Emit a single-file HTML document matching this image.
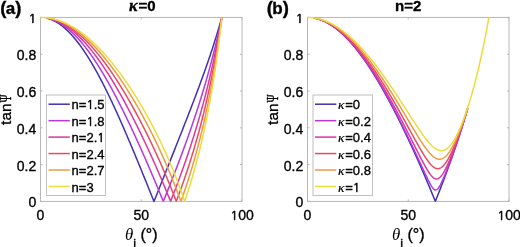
<!DOCTYPE html>
<html><head><meta charset="utf-8"><style>
html,body{margin:0;padding:0;background:#fff;width:520px;height:247px;overflow:hidden}
svg{display:block}
text{font-family:"Liberation Sans",Arial,sans-serif;fill:#000;stroke:#000;stroke-width:0.35px}
.tk{font-size:14px}
.lg{font-size:13px}
.ti{font-size:15px;font-weight:bold}
.ti .k{font-family:"Liberation Serif",serif;font-style:italic;font-weight:bold;font-size:16.3px;letter-spacing:0.8px}
.lg .k{font-family:"Liberation Serif",serif;font-style:italic;font-size:13.4px;stroke-width:0.2px;letter-spacing:0.7px}
.pl{font-size:17px;font-weight:bold}
.pp{font-size:18.5px;letter-spacing:-0.5px}
.yl{font-size:15.4px}
.xl{font-size:16px}
.k{font-style:italic}
.psi{font-family:"Liberation Serif",serif;font-size:16.5px}
.th{font-family:"Liberation Serif",serif;font-style:italic;font-size:16.8px;stroke-width:0}
.sub{font-size:12.5px}
.o{font-family:NanumGothic,"Liberation Sans",sans-serif;font-size:0.926em;stroke-width:0.55px}
</style></head><body>
<svg width="520" height="247" viewBox="0 0 520 247">
<rect width="520" height="247" fill="#fff"/>
<rect x="40.5" y="17.45" width="201.5" height="183.95000000000002" fill="none" stroke="#b6b6b6" stroke-width="1"/>
<line x1="40.5" y1="201.4" x2="40.5" y2="199.4" stroke="#b6b6b6" stroke-width="1"/>
<line x1="40.5" y1="17.45" x2="40.5" y2="19.45" stroke="#b6b6b6" stroke-width="1"/>
<line x1="141.25" y1="201.4" x2="141.25" y2="199.4" stroke="#b6b6b6" stroke-width="1"/>
<line x1="141.25" y1="17.45" x2="141.25" y2="19.45" stroke="#b6b6b6" stroke-width="1"/>
<line x1="242.0" y1="201.4" x2="242.0" y2="199.4" stroke="#b6b6b6" stroke-width="1"/>
<line x1="242.0" y1="17.45" x2="242.0" y2="19.45" stroke="#b6b6b6" stroke-width="1"/>
<line x1="40.5" y1="201.4" x2="42.5" y2="201.4" stroke="#b6b6b6" stroke-width="1"/>
<line x1="242.0" y1="201.4" x2="240.0" y2="201.4" stroke="#b6b6b6" stroke-width="1"/>
<line x1="40.5" y1="164.61" x2="42.5" y2="164.61" stroke="#b6b6b6" stroke-width="1"/>
<line x1="242.0" y1="164.61" x2="240.0" y2="164.61" stroke="#b6b6b6" stroke-width="1"/>
<line x1="40.5" y1="127.82" x2="42.5" y2="127.82" stroke="#b6b6b6" stroke-width="1"/>
<line x1="242.0" y1="127.82" x2="240.0" y2="127.82" stroke="#b6b6b6" stroke-width="1"/>
<line x1="40.5" y1="91.03" x2="42.5" y2="91.03" stroke="#b6b6b6" stroke-width="1"/>
<line x1="242.0" y1="91.03" x2="240.0" y2="91.03" stroke="#b6b6b6" stroke-width="1"/>
<line x1="40.5" y1="54.23999999999998" x2="42.5" y2="54.23999999999998" stroke="#b6b6b6" stroke-width="1"/>
<line x1="242.0" y1="54.23999999999998" x2="240.0" y2="54.23999999999998" stroke="#b6b6b6" stroke-width="1"/>
<line x1="40.5" y1="17.44999999999999" x2="42.5" y2="17.44999999999999" stroke="#b6b6b6" stroke-width="1"/>
<line x1="242.0" y1="17.44999999999999" x2="240.0" y2="17.44999999999999" stroke="#b6b6b6" stroke-width="1"/>
<polyline points="46.55,18.12 46.94,18.21 47.34,18.31 47.74,18.41 48.14,18.52 48.54,18.64 48.94,18.76 49.34,18.89 49.74,19.02 50.14,19.16 50.54,19.30 50.94,19.45 51.34,19.61 51.74,19.77 52.14,19.93 52.53,20.11 52.93,20.29 53.33,20.47 53.73,20.66 54.13,20.86 54.53,21.06 54.93,21.27 55.33,21.48 55.73,21.70 56.13,21.92 56.53,22.15 56.93,22.39 57.33,22.63 57.73,22.88 58.13,23.13 58.52,23.39 58.92,23.65 59.32,23.92 59.72,24.20 60.12,24.48 60.52,24.76 60.92,25.06 61.32,25.35 61.72,25.66 62.12,25.97 62.52,26.28 62.92,26.60 63.32,26.93 63.72,27.26 64.12,27.59 64.51,27.94 64.91,28.28 65.31,28.64 65.71,28.99 66.11,29.36 66.51,29.73 66.91,30.10 67.31,30.48 67.71,30.87 68.11,31.26 68.51,31.65 68.91,32.05 69.31,32.46 69.71,32.87 70.11,33.29 70.50,33.71 70.90,34.14 71.30,34.57 71.70,35.01 72.10,35.45 72.50,35.90 72.90,36.35 73.30,36.81 73.70,37.27 74.10,37.74 74.50,38.21 74.90,38.69 75.30,39.18 75.70,39.67 76.10,40.16 76.49,40.66 76.89,41.16 77.29,41.67 77.69,42.18 78.09,42.70 78.49,43.23 78.89,43.75 79.29,44.29 79.69,44.82 80.09,45.37 80.49,45.91 80.89,46.47 81.29,47.02 81.69,47.58 82.09,48.15 82.48,48.72 82.88,49.30 83.28,49.88 83.68,50.46 84.08,51.05 84.48,51.65 84.88,52.24 85.28,52.85 85.68,53.45 86.08,54.07 86.48,54.68 86.88,55.30 87.28,55.93 87.68,56.56 88.08,57.19 88.47,57.83 88.87,58.47 89.27,59.12 89.67,59.77 90.07,60.43 90.47,61.09 90.87,61.75 91.27,62.42 91.67,63.09 92.07,63.77 92.47,64.45 92.87,65.13 93.27,65.82 93.67,66.51 94.07,67.21 94.46,67.91 94.86,68.61 95.26,69.32 95.66,70.03 96.06,70.75 96.46,71.47 96.86,72.19 97.26,72.92 97.66,73.65 98.06,74.39 98.46,75.13 98.86,75.87 99.26,76.61 99.66,77.36 100.05,78.12 100.45,78.87 100.85,79.63 101.25,80.40 101.65,81.16 102.05,81.93 102.45,82.71 102.85,83.49 103.25,84.27 103.65,85.05 104.05,85.84 104.45,86.63 104.85,87.42 105.25,88.22 105.65,89.02 106.04,89.83 106.44,90.63 106.84,91.44 107.24,92.26 107.64,93.07 108.04,93.89 108.44,94.71 108.84,95.54 109.24,96.37 109.64,97.20 110.04,98.03 110.44,98.87 110.84,99.71 111.24,100.55 111.64,101.40 112.03,102.24 112.43,103.10 112.83,103.95 113.23,104.81 113.63,105.66 114.03,106.53 114.43,107.39 114.83,108.26 115.23,109.13 115.63,110.00 116.03,110.87 116.43,111.75 116.83,112.63 117.23,113.51 117.63,114.39 118.02,115.28 118.42,116.17 118.82,117.06 119.22,117.95 119.62,118.85 120.02,119.75 120.42,120.65 120.82,121.55 121.22,122.45 121.62,123.36 122.02,124.27 122.42,125.18 122.82,126.09 123.22,127.00 123.62,127.92 124.01,128.84 124.41,129.76 124.81,130.68 125.21,131.60 125.61,132.53 126.01,133.46 126.41,134.39 126.81,135.32 127.21,136.25 127.61,137.19 128.01,138.12 128.41,139.06 128.81,140.00 129.21,140.94 129.61,141.88 130.00,142.83 130.40,143.77 130.80,144.72 131.20,145.67 131.60,146.62 132.00,147.57 132.40,148.52 132.80,149.47 133.20,150.43 133.60,151.39 134.00,152.34 134.40,153.30 134.80,154.26 135.20,155.23 135.60,156.19 135.99,157.15 136.39,158.12 136.79,159.08 137.19,160.05 137.59,161.02 137.99,161.99 138.39,162.96 138.79,163.93 139.19,164.90 139.59,165.88 139.99,166.85 140.39,167.83 140.79,168.80 141.19,169.78 141.59,170.76 141.98,171.74 142.38,172.72 142.78,173.70 143.18,174.68 143.58,175.66 143.98,176.64 144.38,177.63 144.78,178.61 145.18,179.60 145.58,180.58 145.98,181.57 146.38,182.56 146.78,183.54 147.18,184.53 147.57,185.52 147.97,186.51 148.37,187.50 148.77,188.49 149.17,189.48 149.57,190.47 149.97,191.46 150.37,192.45 150.77,193.45 151.17,194.44 151.57,195.43 151.97,196.43 152.37,197.42 152.77,198.41 153.17,199.41 153.56,200.40 153.96,201.40 154.36,200.40 154.76,199.41 155.16,198.41 155.56,197.42 155.96,196.42 156.36,195.42 156.76,194.42 157.16,193.43 157.56,192.43 157.96,191.43 158.36,190.43 158.76,189.43 159.16,188.43 159.55,187.44 159.95,186.44 160.35,185.44 160.75,184.44 161.15,183.44 161.55,182.44 161.95,181.44 162.35,180.44 162.75,179.44 163.15,178.44 163.55,177.44 163.95,176.44 164.35,175.43 164.75,174.43 165.15,173.43 165.54,172.43 165.94,171.43 166.34,170.43 166.74,169.43 167.14,168.42 167.54,167.42 167.94,166.42 168.34,165.42 168.74,164.42 169.14,163.41 169.54,162.41 169.94,161.41 170.34,160.40 170.74,159.40 171.14,158.40 171.53,157.39 171.93,156.39 172.33,155.39 172.73,154.38 173.13,153.38 173.53,152.37 173.93,151.37 174.33,150.36 174.73,149.36 175.13,148.35 175.53,147.34 175.93,146.34 176.33,145.33 176.73,144.32 177.13,143.32 177.52,142.31 177.92,141.30 178.32,140.29 178.72,139.28 179.12,138.27 179.52,137.26 179.92,136.25 180.32,135.24 180.72,134.23 181.12,133.22 181.52,132.21 181.92,131.19 182.32,130.18 182.72,129.16 183.12,128.15 183.51,127.13 183.91,126.12 184.31,125.10 184.71,124.08 185.11,123.06 185.51,122.04 185.91,121.02 186.31,120.00 186.71,118.98 187.11,117.95 187.51,116.93 187.91,115.90 188.31,114.87 188.71,113.85 189.11,112.82 189.50,111.79 189.90,110.75 190.30,109.72 190.70,108.68 191.10,107.65 191.50,106.61 191.90,105.57 192.30,104.53 192.70,103.49 193.10,102.44 193.50,101.40 193.90,100.35 194.30,99.30 194.70,98.25 195.10,97.20 195.49,96.14 195.89,95.08 196.29,94.02 196.69,92.96 197.09,91.90 197.49,90.83 197.89,89.76 198.29,88.69 198.69,87.61 199.09,86.54 199.49,85.46 199.89,84.38 200.29,83.29 200.69,82.20 201.08,81.11 201.48,80.02 201.88,78.92 202.28,77.82 202.68,76.71 203.08,75.61 203.48,74.50 203.88,73.38 204.28,72.26 204.68,71.14 205.08,70.01 205.48,68.88 205.88,67.75 206.28,66.61 206.68,65.47 207.07,64.32 207.47,63.17 207.87,62.01 208.27,60.85 208.67,59.68 209.07,58.51 209.47,57.33 209.87,56.15 210.27,54.96 210.67,53.77 211.07,52.57 211.47,51.37 211.87,50.16 212.27,48.94 212.67,47.72 213.06,46.49 213.46,45.25 213.86,44.01 214.26,42.76 214.66,41.50 215.06,40.24 215.46,38.96 215.86,37.68 216.26,36.40 216.66,35.10 217.06,33.80 217.46,32.49 217.86,31.17 218.26,29.84 218.66,28.50 219.05,27.15 219.45,25.80 219.85,24.43 220.25,23.06 220.65,21.67 221.05,20.27 221.45,18.87 221.85,17.45" fill="none" stroke="#4030b0" stroke-width="1.5" stroke-linejoin="round"/>
<polyline points="46.55,18.01 46.94,18.09 47.34,18.17 47.74,18.25 48.14,18.34 48.54,18.44 48.94,18.54 49.34,18.65 49.74,18.76 50.14,18.87 50.54,18.99 50.94,19.12 51.34,19.25 51.74,19.38 52.14,19.52 52.53,19.67 52.93,19.81 53.33,19.97 53.73,20.13 54.13,20.29 54.53,20.46 54.93,20.63 55.33,20.81 55.73,20.99 56.13,21.18 56.53,21.37 56.93,21.57 57.33,21.77 57.73,21.98 58.13,22.19 58.52,22.40 58.92,22.62 59.32,22.85 59.72,23.08 60.12,23.31 60.52,23.55 60.92,23.80 61.32,24.05 61.72,24.30 62.12,24.56 62.52,24.82 62.92,25.09 63.32,25.36 63.72,25.64 64.12,25.92 64.51,26.20 64.91,26.49 65.31,26.79 65.71,27.09 66.11,27.39 66.51,27.70 66.91,28.02 67.31,28.33 67.71,28.66 68.11,28.98 68.51,29.31 68.91,29.65 69.31,29.99 69.71,30.34 70.11,30.69 70.50,31.04 70.90,31.40 71.30,31.76 71.70,32.13 72.10,32.50 72.50,32.87 72.90,33.26 73.30,33.64 73.70,34.03 74.10,34.42 74.50,34.82 74.90,35.22 75.30,35.63 75.70,36.04 76.10,36.45 76.49,36.87 76.89,37.30 77.29,37.72 77.69,38.16 78.09,38.59 78.49,39.03 78.89,39.48 79.29,39.93 79.69,40.38 80.09,40.84 80.49,41.30 80.89,41.76 81.29,42.23 81.69,42.70 82.09,43.18 82.48,43.66 82.88,44.15 83.28,44.64 83.68,45.13 84.08,45.63 84.48,46.13 84.88,46.64 85.28,47.15 85.68,47.66 86.08,48.18 86.48,48.70 86.88,49.22 87.28,49.75 87.68,50.29 88.08,50.82 88.47,51.36 88.87,51.91 89.27,52.46 89.67,53.01 90.07,53.56 90.47,54.12 90.87,54.69 91.27,55.25 91.67,55.82 92.07,56.40 92.47,56.98 92.87,57.56 93.27,58.14 93.67,58.73 94.07,59.32 94.46,59.92 94.86,60.52 95.26,61.12 95.66,61.73 96.06,62.34 96.46,62.95 96.86,63.57 97.26,64.19 97.66,64.81 98.06,65.44 98.46,66.07 98.86,66.70 99.26,67.34 99.66,67.98 100.05,68.63 100.45,69.27 100.85,69.92 101.25,70.58 101.65,71.24 102.05,71.90 102.45,72.56 102.85,73.23 103.25,73.90 103.65,74.57 104.05,75.25 104.45,75.93 104.85,76.61 105.25,77.29 105.65,77.98 106.04,78.67 106.44,79.37 106.84,80.07 107.24,80.77 107.64,81.47 108.04,82.18 108.44,82.89 108.84,83.60 109.24,84.32 109.64,85.03 110.04,85.76 110.44,86.48 110.84,87.21 111.24,87.94 111.64,88.67 112.03,89.40 112.43,90.14 112.83,90.88 113.23,91.63 113.63,92.37 114.03,93.12 114.43,93.87 114.83,94.63 115.23,95.39 115.63,96.14 116.03,96.91 116.43,97.67 116.83,98.44 117.23,99.21 117.63,99.98 118.02,100.76 118.42,101.53 118.82,102.31 119.22,103.10 119.62,103.88 120.02,104.67 120.42,105.46 120.82,106.25 121.22,107.04 121.62,107.84 122.02,108.64 122.42,109.44 122.82,110.24 123.22,111.05 123.62,111.86 124.01,112.67 124.41,113.48 124.81,114.30 125.21,115.11 125.61,115.93 126.01,116.76 126.41,117.58 126.81,118.41 127.21,119.23 127.61,120.06 128.01,120.90 128.41,121.73 128.81,122.57 129.21,123.40 129.61,124.25 130.00,125.09 130.40,125.93 130.80,126.78 131.20,127.63 131.60,128.48 132.00,129.33 132.40,130.18 132.80,131.04 133.20,131.90 133.60,132.76 134.00,133.62 134.40,134.48 134.80,135.35 135.20,136.22 135.60,137.09 135.99,137.96 136.39,138.83 136.79,139.71 137.19,140.58 137.59,141.46 137.99,142.34 138.39,143.22 138.79,144.11 139.19,144.99 139.59,145.88 139.99,146.77 140.39,147.66 140.79,148.55 141.19,149.44 141.59,150.34 141.98,151.24 142.38,152.14 142.78,153.04 143.18,153.94 143.58,154.84 143.98,155.75 144.38,156.65 144.78,157.56 145.18,158.47 145.58,159.39 145.98,160.30 146.38,161.21 146.78,162.13 147.18,163.05 147.57,163.97 147.97,164.89 148.37,165.81 148.77,166.74 149.17,167.66 149.57,168.59 149.97,169.52 150.37,170.45 150.77,171.38 151.17,172.31 151.57,173.25 151.97,174.18 152.37,175.12 152.77,176.06 153.17,177.00 153.56,177.94 153.96,178.89 154.36,179.83 154.76,180.78 155.16,181.73 155.56,182.68 155.96,183.63 156.36,184.58 156.76,185.54 157.16,186.49 157.56,187.45 157.96,188.41 158.36,189.37 158.76,190.33 159.16,191.30 159.55,192.26 159.95,193.23 160.35,194.20 160.75,195.17 161.15,196.14 161.55,197.11 161.95,198.08 162.35,199.06 162.75,200.04 163.15,201.02 163.55,200.80 163.95,199.82 164.35,198.84 164.75,197.85 165.15,196.86 165.54,195.87 165.94,194.88 166.34,193.89 166.74,192.90 167.14,191.90 167.54,190.90 167.94,189.90 168.34,188.90 168.74,187.90 169.14,186.90 169.54,185.89 169.94,184.88 170.34,183.87 170.74,182.86 171.14,181.84 171.53,180.83 171.93,179.81 172.33,178.79 172.73,177.77 173.13,176.74 173.53,175.72 173.93,174.69 174.33,173.66 174.73,172.63 175.13,171.59 175.53,170.56 175.93,169.52 176.33,168.48 176.73,167.43 177.13,166.39 177.52,165.34 177.92,164.29 178.32,163.24 178.72,162.18 179.12,161.13 179.52,160.07 179.92,159.00 180.32,157.94 180.72,156.87 181.12,155.80 181.52,154.73 181.92,153.65 182.32,152.57 182.72,151.49 183.12,150.41 183.51,149.32 183.91,148.23 184.31,147.13 184.71,146.04 185.11,144.94 185.51,143.84 185.91,142.73 186.31,141.62 186.71,140.51 187.11,139.39 187.51,138.27 187.91,137.15 188.31,136.02 188.71,134.89 189.11,133.76 189.50,132.62 189.90,131.48 190.30,130.33 190.70,129.18 191.10,128.03 191.50,126.87 191.90,125.71 192.30,124.54 192.70,123.37 193.10,122.19 193.50,121.01 193.90,119.83 194.30,118.64 194.70,117.45 195.10,116.25 195.49,115.04 195.89,113.83 196.29,112.62 196.69,111.40 197.09,110.17 197.49,108.94 197.89,107.71 198.29,106.47 198.69,105.22 199.09,103.97 199.49,102.71 199.89,101.44 200.29,100.17 200.69,98.89 201.08,97.60 201.48,96.31 201.88,95.01 202.28,93.71 202.68,92.40 203.08,91.08 203.48,89.75 203.88,88.42 204.28,87.07 204.68,85.72 205.08,84.37 205.48,83.00 205.88,81.63 206.28,80.25 206.68,78.85 207.07,77.45 207.47,76.05 207.87,74.63 208.27,73.20 208.67,71.76 209.07,70.32 209.47,68.86 209.87,67.39 210.27,65.92 210.67,64.43 211.07,62.93 211.47,61.42 211.87,59.90 212.27,58.37 212.67,56.83 213.06,55.27 213.46,53.71 213.86,52.13 214.26,50.53 214.66,48.93 215.06,47.31 215.46,45.68 215.86,44.03 216.26,42.37 216.66,40.69 217.06,39.00 217.46,37.30 217.86,35.58 218.26,33.84 218.66,32.09 219.05,30.32 219.45,28.54 219.85,26.74 220.25,24.92 220.65,23.08 221.05,21.22 221.45,19.34 221.85,17.45" fill="none" stroke="#b636e0" stroke-width="1.5" stroke-linejoin="round"/>
<polyline points="46.55,17.93 46.94,18.00 47.34,18.07 47.74,18.14 48.14,18.22 48.54,18.30 48.94,18.39 49.34,18.48 49.74,18.57 50.14,18.67 50.54,18.77 50.94,18.88 51.34,18.99 51.74,19.11 52.14,19.23 52.53,19.35 52.93,19.48 53.33,19.61 53.73,19.75 54.13,19.89 54.53,20.03 54.93,20.18 55.33,20.33 55.73,20.49 56.13,20.65 56.53,20.81 56.93,20.98 57.33,21.16 57.73,21.33 58.13,21.51 58.52,21.70 58.92,21.89 59.32,22.08 59.72,22.28 60.12,22.48 60.52,22.69 60.92,22.90 61.32,23.11 61.72,23.33 62.12,23.55 62.52,23.78 62.92,24.01 63.32,24.24 63.72,24.48 64.12,24.72 64.51,24.97 64.91,25.22 65.31,25.47 65.71,25.73 66.11,25.99 66.51,26.26 66.91,26.53 67.31,26.80 67.71,27.08 68.11,27.36 68.51,27.64 68.91,27.93 69.31,28.23 69.71,28.52 70.11,28.82 70.50,29.13 70.90,29.44 71.30,29.75 71.70,30.07 72.10,30.39 72.50,30.71 72.90,31.04 73.30,31.37 73.70,31.71 74.10,32.05 74.50,32.39 74.90,32.74 75.30,33.09 75.70,33.44 76.10,33.80 76.49,34.16 76.89,34.53 77.29,34.90 77.69,35.27 78.09,35.65 78.49,36.03 78.89,36.41 79.29,36.80 79.69,37.19 80.09,37.59 80.49,37.99 80.89,38.39 81.29,38.80 81.69,39.21 82.09,39.62 82.48,40.04 82.88,40.46 83.28,40.88 83.68,41.31 84.08,41.74 84.48,42.18 84.88,42.61 85.28,43.06 85.68,43.50 86.08,43.95 86.48,44.40 86.88,44.86 87.28,45.32 87.68,45.78 88.08,46.25 88.47,46.72 88.87,47.19 89.27,47.67 89.67,48.15 90.07,48.63 90.47,49.12 90.87,49.61 91.27,50.10 91.67,50.60 92.07,51.10 92.47,51.60 92.87,52.11 93.27,52.62 93.67,53.13 94.07,53.65 94.46,54.17 94.86,54.69 95.26,55.22 95.66,55.75 96.06,56.28 96.46,56.82 96.86,57.36 97.26,57.90 97.66,58.45 98.06,59.00 98.46,59.55 98.86,60.10 99.26,60.66 99.66,61.22 100.05,61.79 100.45,62.36 100.85,62.93 101.25,63.50 101.65,64.08 102.05,64.66 102.45,65.24 102.85,65.83 103.25,66.41 103.65,67.01 104.05,67.60 104.45,68.20 104.85,68.80 105.25,69.40 105.65,70.01 106.04,70.62 106.44,71.23 106.84,71.85 107.24,72.47 107.64,73.09 108.04,73.71 108.44,74.34 108.84,74.97 109.24,75.60 109.64,76.23 110.04,76.87 110.44,77.51 110.84,78.16 111.24,78.80 111.64,79.45 112.03,80.11 112.43,80.76 112.83,81.42 113.23,82.08 113.63,82.74 114.03,83.41 114.43,84.07 114.83,84.74 115.23,85.42 115.63,86.09 116.03,86.77 116.43,87.45 116.83,88.14 117.23,88.82 117.63,89.51 118.02,90.20 118.42,90.90 118.82,91.60 119.22,92.30 119.62,93.00 120.02,93.70 120.42,94.41 120.82,95.12 121.22,95.83 121.62,96.54 122.02,97.26 122.42,97.98 122.82,98.70 123.22,99.43 123.62,100.15 124.01,100.88 124.41,101.61 124.81,102.35 125.21,103.08 125.61,103.82 126.01,104.56 126.41,105.31 126.81,106.05 127.21,106.80 127.61,107.55 128.01,108.30 128.41,109.06 128.81,109.82 129.21,110.58 129.61,111.34 130.00,112.10 130.40,112.87 130.80,113.64 131.20,114.41 131.60,115.18 132.00,115.96 132.40,116.74 132.80,117.52 133.20,118.30 133.60,119.09 134.00,119.87 134.40,120.66 134.80,121.45 135.20,122.25 135.60,123.04 135.99,123.84 136.39,124.64 136.79,125.44 137.19,126.25 137.59,127.06 137.99,127.86 138.39,128.68 138.79,129.49 139.19,130.31 139.59,131.12 139.99,131.94 140.39,132.77 140.79,133.59 141.19,134.42 141.59,135.25 141.98,136.08 142.38,136.91 142.78,137.74 143.18,138.58 143.58,139.42 143.98,140.26 144.38,141.11 144.78,141.95 145.18,142.80 145.58,143.65 145.98,144.50 146.38,145.36 146.78,146.22 147.18,147.07 147.57,147.94 147.97,148.80 148.37,149.66 148.77,150.53 149.17,151.40 149.57,152.27 149.97,153.15 150.37,154.03 150.77,154.90 151.17,155.78 151.57,156.67 151.97,157.55 152.37,158.44 152.77,159.33 153.17,160.22 153.56,161.12 153.96,162.01 154.36,162.91 154.76,163.81 155.16,164.72 155.56,165.62 155.96,166.53 156.36,167.44 156.76,168.35 157.16,169.27 157.56,170.19 157.96,171.11 158.36,172.03 158.76,172.95 159.16,173.88 159.55,174.81 159.95,175.74 160.35,176.68 160.75,177.61 161.15,178.55 161.55,179.49 161.95,180.44 162.35,181.38 162.75,182.33 163.15,183.28 163.55,184.24 163.95,185.20 164.35,186.16 164.75,187.12 165.15,188.08 165.54,189.05 165.94,190.02 166.34,191.00 166.74,191.97 167.14,192.95 167.54,193.93 167.94,194.92 168.34,195.90 168.74,196.89 169.14,197.89 169.54,198.88 169.94,199.88 170.34,200.89 170.74,200.91 171.14,199.90 171.53,198.89 171.93,197.87 172.33,196.86 172.73,195.84 173.13,194.81 173.53,193.78 173.93,192.75 174.33,191.72 174.73,190.68 175.13,189.64 175.53,188.59 175.93,187.54 176.33,186.49 176.73,185.44 177.13,184.38 177.52,183.31 177.92,182.25 178.32,181.18 178.72,180.10 179.12,179.02 179.52,177.94 179.92,176.85 180.32,175.76 180.72,174.67 181.12,173.57 181.52,172.46 181.92,171.35 182.32,170.24 182.72,169.12 183.12,168.00 183.51,166.88 183.91,165.74 184.31,164.61 184.71,163.47 185.11,162.32 185.51,161.17 185.91,160.02 186.31,158.86 186.71,157.69 187.11,156.52 187.51,155.34 187.91,154.16 188.31,152.97 188.71,151.78 189.11,150.58 189.50,149.37 189.90,148.16 190.30,146.95 190.70,145.72 191.10,144.49 191.50,143.26 191.90,142.02 192.30,140.77 192.70,139.51 193.10,138.25 193.50,136.98 193.90,135.71 194.30,134.42 194.70,133.13 195.10,131.83 195.49,130.53 195.89,129.22 196.29,127.89 196.69,126.57 197.09,125.23 197.49,123.88 197.89,122.53 198.29,121.17 198.69,119.80 199.09,118.42 199.49,117.03 199.89,115.63 200.29,114.23 200.69,112.81 201.08,111.38 201.48,109.95 201.88,108.50 202.28,107.05 202.68,105.58 203.08,104.10 203.48,102.61 203.88,101.11 204.28,99.60 204.68,98.08 205.08,96.55 205.48,95.00 205.88,93.44 206.28,91.87 206.68,90.29 207.07,88.69 207.47,87.08 207.87,85.46 208.27,83.83 208.67,82.17 209.07,80.51 209.47,78.83 209.87,77.14 210.27,75.43 210.67,73.70 211.07,71.96 211.47,70.20 211.87,68.43 212.27,66.64 212.67,64.83 213.06,63.00 213.46,61.16 213.86,59.30 214.26,57.42 214.66,55.52 215.06,53.59 215.46,51.65 215.86,49.69 216.26,47.71 216.66,45.71 217.06,43.68 217.46,41.63 217.86,39.56 218.26,37.47 218.66,35.35 219.05,33.20 219.45,31.03 219.85,28.84 220.25,26.62 220.65,24.37 221.05,22.09 221.45,19.78 221.85,17.45" fill="none" stroke="#de35a0" stroke-width="1.5" stroke-linejoin="round"/>
<polyline points="46.55,17.87 46.94,17.93 47.34,17.99 47.74,18.05 48.14,18.12 48.54,18.19 48.94,18.27 49.34,18.35 49.74,18.43 50.14,18.52 50.54,18.61 50.94,18.70 51.34,18.80 51.74,18.90 52.14,19.00 52.53,19.11 52.93,19.22 53.33,19.34 53.73,19.46 54.13,19.58 54.53,19.71 54.93,19.84 55.33,19.97 55.73,20.11 56.13,20.25 56.53,20.40 56.93,20.54 57.33,20.70 57.73,20.85 58.13,21.01 58.52,21.17 58.92,21.34 59.32,21.51 59.72,21.68 60.12,21.86 60.52,22.04 60.92,22.22 61.32,22.41 61.72,22.60 62.12,22.79 62.52,22.99 62.92,23.19 63.32,23.40 63.72,23.61 64.12,23.82 64.51,24.04 64.91,24.26 65.31,24.48 65.71,24.70 66.11,24.93 66.51,25.17 66.91,25.40 67.31,25.64 67.71,25.89 68.11,26.14 68.51,26.39 68.91,26.64 69.31,26.90 69.71,27.16 70.11,27.42 70.50,27.69 70.90,27.96 71.30,28.24 71.70,28.52 72.10,28.80 72.50,29.08 72.90,29.37 73.30,29.66 73.70,29.96 74.10,30.26 74.50,30.56 74.90,30.87 75.30,31.17 75.70,31.49 76.10,31.80 76.49,32.12 76.89,32.44 77.29,32.77 77.69,33.10 78.09,33.43 78.49,33.76 78.89,34.10 79.29,34.45 79.69,34.79 80.09,35.14 80.49,35.49 80.89,35.85 81.29,36.21 81.69,36.57 82.09,36.93 82.48,37.30 82.88,37.67 83.28,38.05 83.68,38.43 84.08,38.81 84.48,39.19 84.88,39.58 85.28,39.97 85.68,40.36 86.08,40.76 86.48,41.16 86.88,41.56 87.28,41.97 87.68,42.38 88.08,42.79 88.47,43.21 88.87,43.63 89.27,44.05 89.67,44.48 90.07,44.90 90.47,45.34 90.87,45.77 91.27,46.21 91.67,46.65 92.07,47.09 92.47,47.54 92.87,47.99 93.27,48.44 93.67,48.90 94.07,49.36 94.46,49.82 94.86,50.29 95.26,50.75 95.66,51.22 96.06,51.70 96.46,52.18 96.86,52.66 97.26,53.14 97.66,53.62 98.06,54.11 98.46,54.60 98.86,55.10 99.26,55.60 99.66,56.10 100.05,56.60 100.45,57.11 100.85,57.62 101.25,58.13 101.65,58.64 102.05,59.16 102.45,59.68 102.85,60.20 103.25,60.73 103.65,61.26 104.05,61.79 104.45,62.33 104.85,62.86 105.25,63.40 105.65,63.95 106.04,64.49 106.44,65.04 106.84,65.59 107.24,66.15 107.64,66.70 108.04,67.26 108.44,67.83 108.84,68.39 109.24,68.96 109.64,69.53 110.04,70.10 110.44,70.68 110.84,71.26 111.24,71.84 111.64,72.42 112.03,73.01 112.43,73.60 112.83,74.19 113.23,74.79 113.63,75.38 114.03,75.98 114.43,76.59 114.83,77.19 115.23,77.80 115.63,78.41 116.03,79.02 116.43,79.64 116.83,80.26 117.23,80.88 117.63,81.50 118.02,82.13 118.42,82.76 118.82,83.39 119.22,84.02 119.62,84.66 120.02,85.30 120.42,85.94 120.82,86.58 121.22,87.23 121.62,87.88 122.02,88.53 122.42,89.18 122.82,89.84 123.22,90.50 123.62,91.16 124.01,91.82 124.41,92.49 124.81,93.16 125.21,93.83 125.61,94.50 126.01,95.18 126.41,95.86 126.81,96.54 127.21,97.22 127.61,97.91 128.01,98.60 128.41,99.29 128.81,99.98 129.21,100.68 129.61,101.38 130.00,102.08 130.40,102.78 130.80,103.49 131.20,104.20 131.60,104.91 132.00,105.62 132.40,106.34 132.80,107.06 133.20,107.78 133.60,108.50 134.00,109.22 134.40,109.95 134.80,110.68 135.20,111.42 135.60,112.15 135.99,112.89 136.39,113.63 136.79,114.37 137.19,115.12 137.59,115.86 137.99,116.61 138.39,117.37 138.79,118.12 139.19,118.88 139.59,119.64 139.99,120.40 140.39,121.16 140.79,121.93 141.19,122.70 141.59,123.47 141.98,124.25 142.38,125.02 142.78,125.80 143.18,126.58 143.58,127.37 143.98,128.16 144.38,128.95 144.78,129.74 145.18,130.53 145.58,131.33 145.98,132.13 146.38,132.93 146.78,133.74 147.18,134.54 147.57,135.35 147.97,136.17 148.37,136.98 148.77,137.80 149.17,138.62 149.57,139.44 149.97,140.27 150.37,141.09 150.77,141.93 151.17,142.76 151.57,143.60 151.97,144.43 152.37,145.28 152.77,146.12 153.17,146.97 153.56,147.82 153.96,148.67 154.36,149.52 154.76,150.38 155.16,151.24 155.56,152.11 155.96,152.97 156.36,153.84 156.76,154.72 157.16,155.59 157.56,156.47 157.96,157.35 158.36,158.23 158.76,159.12 159.16,160.01 159.55,160.90 159.95,161.80 160.35,162.70 160.75,163.60 161.15,164.51 161.55,165.42 161.95,166.33 162.35,167.24 162.75,168.16 163.15,169.08 163.55,170.01 163.95,170.93 164.35,171.87 164.75,172.80 165.15,173.74 165.54,174.68 165.94,175.63 166.34,176.57 166.74,177.53 167.14,178.48 167.54,179.44 167.94,180.40 168.34,181.37 168.74,182.34 169.14,183.32 169.54,184.29 169.94,185.28 170.34,186.26 170.74,187.25 171.14,188.24 171.53,189.24 171.93,190.24 172.33,191.25 172.73,192.26 173.13,193.27 173.53,194.29 173.93,195.32 174.33,196.34 174.73,197.37 175.13,198.41 175.53,199.45 175.93,200.50 176.33,201.25 176.73,200.20 177.13,199.14 177.52,198.08 177.92,197.01 178.32,195.93 178.72,194.85 179.12,193.77 179.52,192.68 179.92,191.58 180.32,190.48 180.72,189.38 181.12,188.27 181.52,187.15 181.92,186.03 182.32,184.90 182.72,183.77 183.12,182.63 183.51,181.48 183.91,180.33 184.31,179.17 184.71,178.01 185.11,176.84 185.51,175.66 185.91,174.48 186.31,173.29 186.71,172.09 187.11,170.89 187.51,169.68 187.91,168.46 188.31,167.24 188.71,166.00 189.11,164.76 189.50,163.52 189.90,162.26 190.30,161.00 190.70,159.73 191.10,158.45 191.50,157.17 191.90,155.87 192.30,154.57 192.70,153.26 193.10,151.93 193.50,150.60 193.90,149.27 194.30,147.92 194.70,146.56 195.10,145.19 195.49,143.82 195.89,142.43 196.29,141.03 196.69,139.63 197.09,138.21 197.49,136.78 197.89,135.34 198.29,133.89 198.69,132.43 199.09,130.96 199.49,129.47 199.89,127.98 200.29,126.47 200.69,124.95 201.08,123.42 201.48,121.87 201.88,120.31 202.28,118.74 202.68,117.15 203.08,115.55 203.48,113.94 203.88,112.31 204.28,110.67 204.68,109.01 205.08,107.33 205.48,105.64 205.88,103.94 206.28,102.22 206.68,100.48 207.07,98.72 207.47,96.95 207.87,95.16 208.27,93.35 208.67,91.52 209.07,89.68 209.47,87.81 209.87,85.93 210.27,84.02 210.67,82.09 211.07,80.15 211.47,78.18 211.87,76.19 212.27,74.17 212.67,72.14 213.06,70.08 213.46,67.99 213.86,65.88 214.26,63.75 214.66,61.59 215.06,59.40 215.46,57.19 215.86,54.94 216.26,52.67 216.66,50.37 217.06,48.04 217.46,45.68 217.86,43.29 218.26,40.87 218.66,38.41 219.05,35.92 219.45,33.39 219.85,30.83 220.25,28.23 220.65,25.60 221.05,22.92 221.45,20.21 221.85,17.45" fill="none" stroke="#e84a62" stroke-width="1.5" stroke-linejoin="round"/>
<polyline points="46.55,17.82 46.94,17.87 47.34,17.93 47.74,17.99 48.14,18.05 48.54,18.11 48.94,18.18 49.34,18.25 49.74,18.32 50.14,18.40 50.54,18.48 50.94,18.56 51.34,18.65 51.74,18.74 52.14,18.83 52.53,18.93 52.93,19.03 53.33,19.13 53.73,19.24 54.13,19.35 54.53,19.46 54.93,19.57 55.33,19.69 55.73,19.82 56.13,19.94 56.53,20.07 56.93,20.20 57.33,20.34 57.73,20.47 58.13,20.62 58.52,20.76 58.92,20.91 59.32,21.06 59.72,21.21 60.12,21.37 60.52,21.53 60.92,21.70 61.32,21.86 61.72,22.03 62.12,22.21 62.52,22.38 62.92,22.56 63.32,22.74 63.72,22.93 64.12,23.12 64.51,23.31 64.91,23.51 65.31,23.71 65.71,23.91 66.11,24.11 66.51,24.32 66.91,24.53 67.31,24.75 67.71,24.96 68.11,25.18 68.51,25.41 68.91,25.63 69.31,25.86 69.71,26.10 70.11,26.33 70.50,26.57 70.90,26.81 71.30,27.06 71.70,27.31 72.10,27.56 72.50,27.81 72.90,28.07 73.30,28.33 73.70,28.60 74.10,28.86 74.50,29.13 74.90,29.40 75.30,29.68 75.70,29.96 76.10,30.24 76.49,30.53 76.89,30.81 77.29,31.11 77.69,31.40 78.09,31.70 78.49,32.00 78.89,32.30 79.29,32.61 79.69,32.92 80.09,33.23 80.49,33.54 80.89,33.86 81.29,34.18 81.69,34.51 82.09,34.83 82.48,35.16 82.88,35.49 83.28,35.83 83.68,36.17 84.08,36.51 84.48,36.86 84.88,37.20 85.28,37.55 85.68,37.91 86.08,38.26 86.48,38.62 86.88,38.98 87.28,39.35 87.68,39.72 88.08,40.09 88.47,40.46 88.87,40.84 89.27,41.22 89.67,41.60 90.07,41.98 90.47,42.37 90.87,42.76 91.27,43.16 91.67,43.55 92.07,43.95 92.47,44.35 92.87,44.76 93.27,45.17 93.67,45.58 94.07,45.99 94.46,46.41 94.86,46.82 95.26,47.25 95.66,47.67 96.06,48.10 96.46,48.53 96.86,48.96 97.26,49.40 97.66,49.83 98.06,50.27 98.46,50.72 98.86,51.16 99.26,51.61 99.66,52.07 100.05,52.52 100.45,52.98 100.85,53.44 101.25,53.90 101.65,54.37 102.05,54.83 102.45,55.31 102.85,55.78 103.25,56.25 103.65,56.73 104.05,57.22 104.45,57.70 104.85,58.19 105.25,58.68 105.65,59.17 106.04,59.66 106.44,60.16 106.84,60.66 107.24,61.16 107.64,61.67 108.04,62.18 108.44,62.69 108.84,63.20 109.24,63.72 109.64,64.23 110.04,64.76 110.44,65.28 110.84,65.81 111.24,66.33 111.64,66.87 112.03,67.40 112.43,67.94 112.83,68.48 113.23,69.02 113.63,69.56 114.03,70.11 114.43,70.66 114.83,71.21 115.23,71.76 115.63,72.32 116.03,72.88 116.43,73.44 116.83,74.01 117.23,74.58 117.63,75.15 118.02,75.72 118.42,76.29 118.82,76.87 119.22,77.45 119.62,78.03 120.02,78.62 120.42,79.21 120.82,79.80 121.22,80.39 121.62,80.98 122.02,81.58 122.42,82.18 122.82,82.78 123.22,83.39 123.62,84.00 124.01,84.61 124.41,85.22 124.81,85.83 125.21,86.45 125.61,87.07 126.01,87.70 126.41,88.32 126.81,88.95 127.21,89.58 127.61,90.21 128.01,90.85 128.41,91.48 128.81,92.13 129.21,92.77 129.61,93.41 130.00,94.06 130.40,94.71 130.80,95.37 131.20,96.02 131.60,96.68 132.00,97.34 132.40,98.00 132.80,98.67 133.20,99.34 133.60,100.01 134.00,100.68 134.40,101.36 134.80,102.03 135.20,102.72 135.60,103.40 135.99,104.09 136.39,104.77 136.79,105.47 137.19,106.16 137.59,106.86 137.99,107.56 138.39,108.26 138.79,108.96 139.19,109.67 139.59,110.38 139.99,111.09 140.39,111.80 140.79,112.52 141.19,113.24 141.59,113.96 141.98,114.69 142.38,115.42 142.78,116.15 143.18,116.88 143.58,117.62 143.98,118.36 144.38,119.10 144.78,119.84 145.18,120.59 145.58,121.34 145.98,122.09 146.38,122.85 146.78,123.61 147.18,124.37 147.57,125.13 147.97,125.90 148.37,126.67 148.77,127.44 149.17,128.22 149.57,129.00 149.97,129.78 150.37,130.56 150.77,131.35 151.17,132.14 151.57,132.93 151.97,133.73 152.37,134.53 152.77,135.33 153.17,136.14 153.56,136.94 153.96,137.75 154.36,138.57 154.76,139.39 155.16,140.21 155.56,141.03 155.96,141.86 156.36,142.69 156.76,143.52 157.16,144.36 157.56,145.20 157.96,146.05 158.36,146.89 158.76,147.74 159.16,148.60 159.55,149.45 159.95,150.32 160.35,151.18 160.75,152.05 161.15,152.92 161.55,153.80 161.95,154.67 162.35,155.56 162.75,156.44 163.15,157.33 163.55,158.23 163.95,159.12 164.35,160.03 164.75,160.93 165.15,161.84 165.54,162.75 165.94,163.67 166.34,164.59 166.74,165.52 167.14,166.45 167.54,167.38 167.94,168.32 168.34,169.26 168.74,170.21 169.14,171.16 169.54,172.11 169.94,173.07 170.34,174.04 170.74,175.01 171.14,175.98 171.53,176.96 171.93,177.94 172.33,178.93 172.73,179.92 173.13,180.92 173.53,181.92 173.93,182.93 174.33,183.94 174.73,184.96 175.13,185.98 175.53,187.01 175.93,188.05 176.33,189.09 176.73,190.13 177.13,191.18 177.52,192.24 177.92,193.30 178.32,194.37 178.72,195.44 179.12,196.52 179.52,197.61 179.92,198.70 180.32,199.80 180.72,200.90 181.12,200.79 181.52,199.67 181.92,198.55 182.32,197.42 182.72,196.28 183.12,195.13 183.51,193.98 183.91,192.82 184.31,191.66 184.71,190.48 185.11,189.30 185.51,188.11 185.91,186.91 186.31,185.71 186.71,184.50 187.11,183.28 187.51,182.05 187.91,180.81 188.31,179.57 188.71,178.31 189.11,177.05 189.50,175.78 189.90,174.49 190.30,173.20 190.70,171.90 191.10,170.59 191.50,169.28 191.90,167.95 192.30,166.61 192.70,165.26 193.10,163.90 193.50,162.53 193.90,161.14 194.30,159.75 194.70,158.35 195.10,156.93 195.49,155.50 195.89,154.07 196.29,152.61 196.69,151.15 197.09,149.68 197.49,148.19 197.89,146.68 198.29,145.17 198.69,143.64 199.09,142.10 199.49,140.54 199.89,138.97 200.29,137.38 200.69,135.78 201.08,134.17 201.48,132.54 201.88,130.89 202.28,129.22 202.68,127.54 203.08,125.85 203.48,124.13 203.88,122.40 204.28,120.65 204.68,118.88 205.08,117.09 205.48,115.29 205.88,113.46 206.28,111.61 206.68,109.75 207.07,107.86 207.47,105.95 207.87,104.02 208.27,102.07 208.67,100.09 209.07,98.09 209.47,96.07 209.87,94.02 210.27,91.94 210.67,89.84 211.07,87.72 211.47,85.57 211.87,83.39 212.27,81.18 212.67,78.94 213.06,76.67 213.46,74.37 213.86,72.05 214.26,69.68 214.66,67.29 215.06,64.86 215.46,62.40 215.86,59.90 216.26,57.37 216.66,54.80 217.06,52.19 217.46,49.54 217.86,46.85 218.26,44.11 218.66,41.34 219.05,38.52 219.45,35.66 219.85,32.75 220.25,29.79 220.65,26.78 221.05,23.72 221.45,20.61 221.85,17.45" fill="none" stroke="#ef9a3e" stroke-width="1.5" stroke-linejoin="round"/>
<polyline points="40.50,17.45 40.90,17.45 41.31,17.46 41.71,17.46 42.11,17.47 42.52,17.49 42.92,17.50 43.32,17.52 43.72,17.55 44.13,17.57 44.53,17.60 44.93,17.63 45.34,17.67 45.74,17.70 46.14,17.74 46.55,17.79 46.95,17.83 47.35,17.88 47.75,17.93 48.16,17.99 48.56,18.05 48.96,18.11 49.37,18.17 49.77,18.24 50.17,18.31 50.58,18.38 50.98,18.46 51.38,18.54 51.78,18.62 52.19,18.71 52.59,18.79 52.99,18.88 53.40,18.98 53.80,19.07 54.20,19.17 54.61,19.28 55.01,19.38 55.41,19.49 55.81,19.60 56.22,19.72 56.62,19.84 57.02,19.96 57.43,20.08 57.83,20.21 58.23,20.34 58.63,20.47 59.04,20.60 59.44,20.74 59.84,20.88 60.25,21.03 60.65,21.17 61.05,21.32 61.46,21.48 61.86,21.63 62.26,21.79 62.66,21.95 63.07,22.12 63.47,22.28 63.87,22.45 64.28,22.63 64.68,22.80 65.08,22.98 65.49,23.16 65.89,23.35 66.29,23.54 66.69,23.73 67.10,23.92 67.50,24.12 67.90,24.32 68.31,24.52 68.71,24.72 69.11,24.93 69.52,25.14 69.92,25.36 70.32,25.57 70.72,25.79 71.13,26.02 71.53,26.24 71.93,26.47 72.34,26.70 72.74,26.93 73.14,27.17 73.55,27.41 73.95,27.65 74.35,27.90 74.75,28.14 75.16,28.39 75.56,28.65 75.96,28.90 76.37,29.16 76.77,29.43 77.17,29.69 77.58,29.96 77.98,30.23 78.38,30.50 78.78,30.78 79.19,31.06 79.59,31.34 79.99,31.62 80.40,31.91 80.80,32.20 81.20,32.49 81.61,32.79 82.01,33.09 82.41,33.39 82.81,33.69 83.22,34.00 83.62,34.31 84.02,34.62 84.43,34.93 84.83,35.25 85.23,35.57 85.64,35.90 86.04,36.22 86.44,36.55 86.84,36.88 87.25,37.21 87.65,37.55 88.05,37.89 88.46,38.23 88.86,38.58 89.26,38.93 89.67,39.28 90.07,39.63 90.47,39.98 90.88,40.34 91.28,40.70 91.68,41.07 92.08,41.43 92.49,41.80 92.89,42.17 93.29,42.55 93.70,42.92 94.10,43.30 94.50,43.69 94.91,44.07 95.31,44.46 95.71,44.85 96.11,45.24 96.52,45.64 96.92,46.04 97.32,46.44 97.73,46.84 98.13,47.25 98.53,47.65 98.94,48.07 99.34,48.48 99.74,48.90 100.14,49.32 100.55,49.74 100.95,50.16 101.35,50.59 101.76,51.02 102.16,51.45 102.56,51.88 102.97,52.32 103.37,52.76 103.77,53.20 104.17,53.65 104.58,54.10 104.98,54.55 105.38,55.00 105.79,55.45 106.19,55.91 106.59,56.37 107.00,56.84 107.40,57.30 107.80,57.77 108.20,58.24 108.61,58.71 109.01,59.19 109.41,59.67 109.82,60.15 110.22,60.63 110.62,61.12 111.02,61.61 111.43,62.10 111.83,62.59 112.23,63.09 112.64,63.58 113.04,64.09 113.44,64.59 113.85,65.10 114.25,65.60 114.65,66.12 115.05,66.63 115.46,67.15 115.86,67.66 116.26,68.19 116.67,68.71 117.07,69.24 117.47,69.77 117.88,70.30 118.28,70.83 118.68,71.37 119.09,71.91 119.49,72.45 119.89,72.99 120.29,73.54 120.70,74.09 121.10,74.64 121.50,75.19 121.91,75.75 122.31,76.31 122.71,76.87 123.11,77.44 123.52,78.00 123.92,78.57 124.32,79.15 124.73,79.72 125.13,80.30 125.53,80.88 125.94,81.46 126.34,82.04 126.74,82.63 127.14,83.22 127.55,83.81 127.95,84.41 128.35,85.01 128.76,85.61 129.16,86.21 129.56,86.81 129.97,87.42 130.37,88.03 130.77,88.65 131.18,89.26 131.58,89.88 131.98,90.50 132.38,91.12 132.79,91.75 133.19,92.38 133.59,93.01 134.00,93.65 134.40,94.28 134.80,94.92 135.20,95.56 135.61,96.21 136.01,96.86 136.41,97.51 136.82,98.16 137.22,98.82 137.62,99.47 138.03,100.14 138.43,100.80 138.83,101.47 139.24,102.14 139.64,102.81 140.04,103.48 140.44,104.16 140.85,104.84 141.25,105.52 141.65,106.21 142.06,106.90 142.46,107.59 142.86,108.29 143.26,108.98 143.67,109.68 144.07,110.39 144.47,111.09 144.88,111.80 145.28,112.52 145.68,113.23 146.09,113.95 146.49,114.67 146.89,115.39 147.30,116.12 147.70,116.85 148.10,117.59 148.50,118.32 148.91,119.06 149.31,119.80 149.71,120.55 150.12,121.30 150.52,122.05 150.92,122.81 151.32,123.57 151.73,124.33 152.13,125.09 152.53,125.86 152.94,126.63 153.34,127.41 153.74,128.19 154.15,128.97 154.55,129.76 154.95,130.55 155.35,131.34 155.76,132.13 156.16,132.93 156.56,133.74 156.97,134.54 157.37,135.35 157.77,136.17 158.18,136.99 158.58,137.81 158.98,138.63 159.38,139.46 159.79,140.29 160.19,141.13 160.59,141.97 161.00,142.82 161.40,143.67 161.80,144.52 162.21,145.38 162.61,146.24 163.01,147.10 163.41,147.97 163.82,148.84 164.22,149.72 164.62,150.60 165.03,151.49 165.43,152.38 165.83,153.28 166.24,154.18 166.64,155.08 167.04,155.99 167.44,156.90 167.85,157.82 168.25,158.75 168.65,159.67 169.06,160.61 169.46,161.54 169.86,162.49 170.27,163.44 170.67,164.39 171.07,165.35 171.47,166.31 171.88,167.28 172.28,168.26 172.68,169.24 173.09,170.22 173.49,171.21 173.89,172.21 174.30,173.21 174.70,174.22 175.10,175.24 175.50,176.26 175.91,177.28 176.31,178.32 176.71,179.35 177.12,180.40 177.52,181.45 177.92,182.51 178.33,183.58 178.73,184.65 179.13,185.73 179.53,186.81 179.94,187.90 180.34,189.00 180.74,190.11 181.15,191.23 181.55,192.35 181.95,193.48 182.36,194.61 182.76,195.76 183.16,196.91 183.56,198.07 183.97,199.24 184.37,200.42 184.77,201.19 185.18,200.00 185.58,198.79 185.98,197.58 186.39,196.36 186.79,195.13 187.19,193.89 187.59,192.64 188.00,191.38 188.40,190.11 188.80,188.83 189.21,187.54 189.61,186.24 190.01,184.93 190.42,183.61 190.82,182.28 191.22,180.93 191.62,179.58 192.03,178.21 192.43,176.83 192.83,175.44 193.24,174.04 193.64,172.62 194.04,171.20 194.45,169.75 194.85,168.30 195.25,166.83 195.66,165.35 196.06,163.86 196.46,162.35 196.86,160.82 197.27,159.28 197.67,157.73 198.07,156.16 198.48,154.58 198.88,152.97 199.28,151.36 199.69,149.72 200.09,148.07 200.49,146.40 200.89,144.71 201.30,143.01 201.70,141.28 202.10,139.54 202.51,137.78 202.91,136.00 203.31,134.19 203.72,132.37 204.12,130.52 204.52,128.66 204.92,126.77 205.33,124.86 205.73,122.92 206.13,120.96 206.54,118.98 206.94,116.97 207.34,114.94 207.75,112.88 208.15,110.79 208.55,108.67 208.95,106.53 209.36,104.36 209.76,102.16 210.16,99.93 210.57,97.66 210.97,95.37 211.37,93.04 211.78,90.68 212.18,88.29 212.58,85.85 212.98,83.39 213.39,80.88 213.79,78.34 214.19,75.76 214.60,73.13 215.00,70.47 215.40,67.76 215.81,65.01 216.21,62.21 216.61,59.37 217.01,56.48 217.42,53.53 217.82,50.54 218.22,47.50 218.63,44.40 219.03,41.24 219.43,38.03 219.84,34.76 220.24,31.43 220.64,28.03 221.04,24.57 221.45,21.05 221.85,17.45" fill="none" stroke="#ecdc3a" stroke-width="1.5" stroke-linejoin="round"/>
<text x="40.5" y="220.3" text-anchor="middle" class="tk">0</text>
<text x="141.25" y="220.3" text-anchor="middle" class="tk">50</text>
<text x="242.0" y="220.3" text-anchor="middle" class="tk"><tspan class="o">1</tspan>00</text>
<text x="36.3" y="207.4" text-anchor="end" class="tk">0</text>
<text x="36.3" y="170.61" text-anchor="end" class="tk">0.2</text>
<text x="36.3" y="133.82" text-anchor="end" class="tk">0.4</text>
<text x="36.3" y="97.03" text-anchor="end" class="tk">0.6</text>
<text x="36.3" y="60.23999999999998" text-anchor="end" class="tk">0.8</text>
<text x="36.3" y="23.44999999999999" text-anchor="end" class="tk"><tspan class="o">1</tspan></text>
<rect x="307.5" y="17.45" width="201.5" height="183.95000000000002" fill="none" stroke="#b6b6b6" stroke-width="1"/>
<line x1="307.5" y1="201.4" x2="307.5" y2="199.4" stroke="#b6b6b6" stroke-width="1"/>
<line x1="307.5" y1="17.45" x2="307.5" y2="19.45" stroke="#b6b6b6" stroke-width="1"/>
<line x1="408.25" y1="201.4" x2="408.25" y2="199.4" stroke="#b6b6b6" stroke-width="1"/>
<line x1="408.25" y1="17.45" x2="408.25" y2="19.45" stroke="#b6b6b6" stroke-width="1"/>
<line x1="509.0" y1="201.4" x2="509.0" y2="199.4" stroke="#b6b6b6" stroke-width="1"/>
<line x1="509.0" y1="17.45" x2="509.0" y2="19.45" stroke="#b6b6b6" stroke-width="1"/>
<line x1="307.5" y1="201.4" x2="309.5" y2="201.4" stroke="#b6b6b6" stroke-width="1"/>
<line x1="509.0" y1="201.4" x2="507.0" y2="201.4" stroke="#b6b6b6" stroke-width="1"/>
<line x1="307.5" y1="164.61" x2="309.5" y2="164.61" stroke="#b6b6b6" stroke-width="1"/>
<line x1="509.0" y1="164.61" x2="507.0" y2="164.61" stroke="#b6b6b6" stroke-width="1"/>
<line x1="307.5" y1="127.82" x2="309.5" y2="127.82" stroke="#b6b6b6" stroke-width="1"/>
<line x1="509.0" y1="127.82" x2="507.0" y2="127.82" stroke="#b6b6b6" stroke-width="1"/>
<line x1="307.5" y1="91.03" x2="309.5" y2="91.03" stroke="#b6b6b6" stroke-width="1"/>
<line x1="509.0" y1="91.03" x2="507.0" y2="91.03" stroke="#b6b6b6" stroke-width="1"/>
<line x1="307.5" y1="54.23999999999998" x2="309.5" y2="54.23999999999998" stroke="#b6b6b6" stroke-width="1"/>
<line x1="509.0" y1="54.23999999999998" x2="507.0" y2="54.23999999999998" stroke="#b6b6b6" stroke-width="1"/>
<line x1="307.5" y1="17.44999999999999" x2="309.5" y2="17.44999999999999" stroke="#b6b6b6" stroke-width="1"/>
<line x1="509.0" y1="17.44999999999999" x2="507.0" y2="17.44999999999999" stroke="#b6b6b6" stroke-width="1"/>
<polyline points="313.55,17.95 314.04,18.04 314.54,18.13 315.04,18.23 315.54,18.34 316.04,18.46 316.54,18.58 317.04,18.70 317.54,18.84 318.03,18.98 318.53,19.13 319.03,19.28 319.53,19.44 320.03,19.61 320.53,19.79 321.03,19.97 321.53,20.16 322.03,20.35 322.52,20.55 323.02,20.76 323.52,20.98 324.02,21.20 324.52,21.43 325.02,21.67 325.52,21.91 326.02,22.16 326.52,22.41 327.01,22.67 327.51,22.94 328.01,23.22 328.51,23.50 329.01,23.79 329.51,24.08 330.01,24.39 330.51,24.69 331.01,25.01 331.50,25.33 332.00,25.66 332.50,25.99 333.00,26.33 333.50,26.68 334.00,27.04 334.50,27.40 335.00,27.76 335.49,28.14 335.99,28.51 336.49,28.90 336.99,29.29 337.49,29.69 337.99,30.10 338.49,30.51 338.99,30.92 339.49,31.35 339.98,31.78 340.48,32.21 340.98,32.66 341.48,33.10 341.98,33.56 342.48,34.02 342.98,34.49 343.48,34.96 343.98,35.44 344.47,35.92 344.97,36.41 345.47,36.91 345.97,37.41 346.47,37.92 346.97,38.44 347.47,38.96 347.97,39.49 348.47,40.02 348.96,40.56 349.46,41.10 349.96,41.65 350.46,42.21 350.96,42.77 351.46,43.34 351.96,43.91 352.46,44.49 352.95,45.08 353.45,45.67 353.95,46.26 354.45,46.86 354.95,47.47 355.45,48.08 355.95,48.70 356.45,49.33 356.95,49.96 357.44,50.59 357.94,51.23 358.44,51.88 358.94,52.53 359.44,53.18 359.94,53.84 360.44,54.51 360.94,55.18 361.44,55.86 361.93,56.54 362.43,57.23 362.93,57.93 363.43,58.62 363.93,59.33 364.43,60.04 364.93,60.75 365.43,61.47 365.93,62.19 366.42,62.92 366.92,63.65 367.42,64.39 367.92,65.13 368.42,65.88 368.92,66.64 369.42,67.39 369.92,68.16 370.41,68.92 370.91,69.70 371.41,70.47 371.91,71.25 372.41,72.04 372.91,72.83 373.41,73.63 373.91,74.43 374.41,75.23 374.90,76.04 375.40,76.86 375.90,77.67 376.40,78.50 376.90,79.32 377.40,80.15 377.90,80.99 378.40,81.83 378.90,82.67 379.39,83.52 379.89,84.38 380.39,85.23 380.89,86.10 381.39,86.96 381.89,87.83 382.39,88.71 382.89,89.58 383.39,90.47 383.88,91.35 384.38,92.24 384.88,93.14 385.38,94.03 385.88,94.94 386.38,95.84 386.88,96.75 387.38,97.67 387.88,98.58 388.37,99.51 388.87,100.43 389.37,101.36 389.87,102.29 390.37,103.23 390.87,104.17 391.37,105.12 391.87,106.06 392.36,107.02 392.86,107.97 393.36,108.93 393.86,109.89 394.36,110.86 394.86,111.83 395.36,112.80 395.86,113.78 396.36,114.76 396.85,115.74 397.35,116.73 397.85,117.72 398.35,118.71 398.85,119.71 399.35,120.71 399.85,121.72 400.35,122.72 400.85,123.73 401.34,124.75 401.84,125.77 402.34,126.79 402.84,127.81 403.34,128.84 403.84,129.87 404.34,130.90 404.84,131.94 405.34,132.98 405.83,134.02 406.33,135.07 406.83,136.12 407.33,137.17 407.83,138.23 408.33,139.29 408.83,140.35 409.33,141.42 409.82,142.49 410.32,143.56 410.82,144.63 411.32,145.71 411.82,146.79 412.32,147.88 412.82,148.97 413.32,150.06 413.82,151.15 414.31,152.25 414.81,153.35 415.31,154.45 415.81,155.56 416.31,156.67 416.81,157.78 417.31,158.90 417.81,160.02 418.31,161.14 418.80,162.26 419.30,163.39 419.80,164.52 420.30,165.66 420.80,166.80 421.30,167.94 421.80,169.08 422.30,170.23 422.80,171.38 423.29,172.53 423.79,173.69 424.29,174.85 424.79,176.02 425.29,177.18 425.79,178.35 426.29,179.53 426.79,180.70 427.28,181.89 427.78,183.07 428.28,184.26 428.78,185.45 429.28,186.64 429.78,187.84 430.28,189.04 430.78,190.25 431.28,191.46 431.77,192.67 432.27,193.89 432.77,195.11 433.27,196.33 433.77,197.56 434.27,198.79 434.77,200.02 435.27,201.26 435.77,200.29 436.26,199.05 436.76,197.79 437.26,196.54 437.76,195.28 438.26,194.01 438.76,192.74 439.26,191.47 439.76,190.19 440.26,188.91 440.75,187.62 441.25,186.33 441.75,185.04 442.25,183.74 442.75,182.43 443.25,181.12 443.75,179.80 444.25,178.48 444.74,177.16 445.24,175.82 445.74,174.49 446.24,173.15 446.74,171.80 447.24,170.44 447.74,169.08 448.24,167.72 448.74,166.35 449.23,164.97 449.73,163.59 450.23,162.20 450.73,160.80 451.23,159.40 451.73,157.99 452.23,156.57 452.73,155.15 453.23,153.72 453.72,152.28 454.22,150.84 454.72,149.38 455.22,147.92 455.72,146.45 456.22,144.98 456.72,143.49 457.22,142.00 457.72,140.50 458.21,138.99 458.71,137.47 459.21,135.94 459.71,134.41 460.21,132.86 460.71,131.30 461.21,129.74 461.71,128.16 462.21,126.58 462.70,124.98 463.20,123.37 463.70,121.75 464.20,120.12 464.70,118.48 465.20,116.83 465.70,115.16 466.20,113.49 466.69,111.80 467.19,110.09 467.69,108.38" fill="none" stroke="#4030b0" stroke-width="1.5" stroke-linejoin="round"/>
<polyline points="313.55,17.95 314.04,18.03 314.54,18.13 315.04,18.23 315.54,18.33 316.04,18.45 316.54,18.56 317.04,18.69 317.54,18.82 318.03,18.96 318.53,19.11 319.03,19.26 319.53,19.42 320.03,19.59 320.53,19.76 321.03,19.94 321.53,20.13 322.03,20.32 322.52,20.52 323.02,20.73 323.52,20.94 324.02,21.16 324.52,21.39 325.02,21.62 325.52,21.86 326.02,22.11 326.52,22.36 327.01,22.62 327.51,22.89 328.01,23.16 328.51,23.44 329.01,23.73 329.51,24.02 330.01,24.32 330.51,24.62 331.01,24.93 331.50,25.25 332.00,25.58 332.50,25.91 333.00,26.25 333.50,26.59 334.00,26.94 334.50,27.30 335.00,27.66 335.49,28.03 335.99,28.40 336.49,28.79 336.99,29.17 337.49,29.57 337.99,29.97 338.49,30.38 338.99,30.79 339.49,31.21 339.98,31.63 340.48,32.07 340.98,32.50 341.48,32.95 341.98,33.40 342.48,33.85 342.98,34.32 343.48,34.78 343.98,35.26 344.47,35.74 344.97,36.22 345.47,36.72 345.97,37.21 346.47,37.72 346.97,38.23 347.47,38.74 347.97,39.27 348.47,39.79 348.96,40.33 349.46,40.86 349.96,41.41 350.46,41.96 350.96,42.52 351.46,43.08 351.96,43.64 352.46,44.22 352.95,44.80 353.45,45.38 353.95,45.97 354.45,46.57 354.95,47.17 355.45,47.77 355.95,48.39 356.45,49.00 356.95,49.63 357.44,50.25 357.94,50.89 358.44,51.53 358.94,52.17 359.44,52.82 359.94,53.47 360.44,54.13 360.94,54.80 361.44,55.47 361.93,56.14 362.43,56.83 362.93,57.51 363.43,58.20 363.93,58.90 364.43,59.60 364.93,60.30 365.43,61.02 365.93,61.73 366.42,62.45 366.92,63.18 367.42,63.91 367.92,64.64 368.42,65.38 368.92,66.13 369.42,66.88 369.92,67.63 370.41,68.39 370.91,69.15 371.41,69.92 371.91,70.70 372.41,71.47 372.91,72.26 373.41,73.04 373.91,73.83 374.41,74.63 374.90,75.43 375.40,76.23 375.90,77.04 376.40,77.86 376.90,78.67 377.40,79.50 377.90,80.32 378.40,81.15 378.90,81.99 379.39,82.83 379.89,83.67 380.39,84.52 380.89,85.37 381.39,86.22 381.89,87.08 382.39,87.95 382.89,88.81 383.39,89.68 383.88,90.56 384.38,91.44 384.88,92.32 385.38,93.21 385.88,94.10 386.38,95.00 386.88,95.89 387.38,96.80 387.88,97.70 388.37,98.61 388.87,99.53 389.37,100.44 389.87,101.36 390.37,102.29 390.87,103.22 391.37,104.15 391.87,105.08 392.36,106.02 392.86,106.97 393.36,107.91 393.86,108.86 394.36,109.81 394.86,110.77 395.36,111.73 395.86,112.69 396.36,113.66 396.85,114.63 397.35,115.60 397.85,116.57 398.35,117.55 398.85,118.53 399.35,119.52 399.85,120.51 400.35,121.50 400.85,122.49 401.34,123.49 401.84,124.49 402.34,125.49 402.84,126.50 403.34,127.51 403.84,128.52 404.34,129.54 404.84,130.56 405.34,131.58 405.83,132.60 406.33,133.63 406.83,134.66 407.33,135.69 407.83,136.72 408.33,137.76 408.83,138.80 409.33,139.84 409.82,140.89 410.32,141.93 410.82,142.98 411.32,144.03 411.82,145.09 412.32,146.14 412.82,147.20 413.32,148.26 413.82,149.33 414.31,150.39 414.81,151.46 415.31,152.52 415.81,153.60 416.31,154.67 416.81,155.74 417.31,156.81 417.81,157.89 418.31,158.97 418.80,160.05 419.30,161.12 419.80,162.20 420.30,163.28 420.80,164.36 421.30,165.44 421.80,166.52 422.30,167.60 422.80,168.67 423.29,169.75 423.79,170.82 424.29,171.89 424.79,172.96 425.29,174.02 425.79,175.07 426.29,176.12 426.79,177.16 427.28,178.19 427.78,179.21 428.28,180.22 428.78,181.21 429.28,182.18 429.78,183.13 430.28,184.04 430.78,184.93 431.28,185.78 431.77,186.57 432.27,187.32 432.77,187.99 433.27,188.59 433.77,189.09 434.27,189.50 434.77,189.78 435.27,189.94 435.77,189.97 436.26,189.86 436.76,189.62 437.26,189.26 437.76,188.78 438.26,188.19 438.76,187.51 439.26,186.75 439.76,185.92 440.26,185.03 440.75,184.09 441.25,183.10 441.75,182.07 442.25,181.01 442.75,179.91 443.25,178.79 443.75,177.65 444.25,176.48 444.74,175.30 445.24,174.10 445.74,172.88 446.24,171.64 446.74,170.40 447.24,169.13 447.74,167.86 448.24,166.57 448.74,165.28 449.23,163.97 449.73,162.65 450.23,161.32 450.73,159.98 451.23,158.63 451.73,157.27 452.23,155.90 452.73,154.52 453.23,153.13 453.72,151.73 454.22,150.32 454.72,148.90 455.22,147.47 455.72,146.04 456.22,144.59 456.72,143.13 457.22,141.67 457.72,140.19 458.21,138.71 458.71,137.21 459.21,135.71 459.71,134.19 460.21,132.66 460.71,131.12 461.21,129.58 461.71,128.02 462.21,126.45 462.70,124.86 463.20,123.27 463.70,121.67 464.20,120.05 464.70,118.42 465.20,116.78 465.70,115.12 466.20,113.46 466.69,111.78 467.19,110.08 467.69,108.37" fill="none" stroke="#b636e0" stroke-width="1.5" stroke-linejoin="round"/>
<polyline points="313.55,17.93 314.04,18.02 314.54,18.11 315.04,18.20 315.54,18.31 316.04,18.42 316.54,18.53 317.04,18.66 317.54,18.78 318.03,18.92 318.53,19.06 319.03,19.21 319.53,19.37 320.03,19.53 320.53,19.70 321.03,19.87 321.53,20.05 322.03,20.24 322.52,20.43 323.02,20.64 323.52,20.84 324.02,21.06 324.52,21.28 325.02,21.50 325.52,21.74 326.02,21.98 326.52,22.22 327.01,22.47 327.51,22.73 328.01,23.00 328.51,23.27 329.01,23.54 329.51,23.83 330.01,24.12 330.51,24.41 331.01,24.72 331.50,25.03 332.00,25.34 332.50,25.66 333.00,25.99 333.50,26.32 334.00,26.66 334.50,27.01 335.00,27.36 335.49,27.72 335.99,28.09 336.49,28.46 336.99,28.83 337.49,29.22 337.99,29.61 338.49,30.00 338.99,30.40 339.49,30.81 339.98,31.22 340.48,31.64 340.98,32.07 341.48,32.50 341.98,32.93 342.48,33.38 342.98,33.82 343.48,34.28 343.98,34.74 344.47,35.20 344.97,35.68 345.47,36.15 345.97,36.64 346.47,37.13 346.97,37.62 347.47,38.12 347.97,38.63 348.47,39.14 348.96,39.66 349.46,40.18 349.96,40.71 350.46,41.24 350.96,41.78 351.46,42.33 351.96,42.88 352.46,43.43 352.95,43.99 353.45,44.56 353.95,45.13 354.45,45.71 354.95,46.29 355.45,46.88 355.95,47.48 356.45,48.07 356.95,48.68 357.44,49.29 357.94,49.90 358.44,50.52 358.94,51.15 359.44,51.78 359.94,52.41 360.44,53.05 360.94,53.69 361.44,54.34 361.93,55.00 362.43,55.66 362.93,56.32 363.43,56.99 363.93,57.67 364.43,58.35 364.93,59.03 365.43,59.72 365.93,60.41 366.42,61.11 366.92,61.82 367.42,62.52 367.92,63.24 368.42,63.95 368.92,64.67 369.42,65.40 369.92,66.13 370.41,66.87 370.91,67.61 371.41,68.35 371.91,69.10 372.41,69.85 372.91,70.61 373.41,71.37 373.91,72.14 374.41,72.91 374.90,73.68 375.40,74.46 375.90,75.24 376.40,76.03 376.90,76.82 377.40,77.61 377.90,78.41 378.40,79.22 378.90,80.02 379.39,80.83 379.89,81.65 380.39,82.47 380.89,83.29 381.39,84.12 381.89,84.95 382.39,85.78 382.89,86.62 383.39,87.46 383.88,88.31 384.38,89.16 384.88,90.01 385.38,90.87 385.88,91.73 386.38,92.59 386.88,93.46 387.38,94.33 387.88,95.20 388.37,96.08 388.87,96.96 389.37,97.85 389.87,98.73 390.37,99.62 390.87,100.52 391.37,101.41 391.87,102.31 392.36,103.22 392.86,104.12 393.36,105.03 393.86,105.95 394.36,106.86 394.86,107.78 395.36,108.70 395.86,109.63 396.36,110.55 396.85,111.48 397.35,112.42 397.85,113.35 398.35,114.29 398.85,115.23 399.35,116.17 399.85,117.12 400.35,118.07 400.85,119.02 401.34,119.97 401.84,120.93 402.34,121.89 402.84,122.85 403.34,123.81 403.84,124.77 404.34,125.74 404.84,126.71 405.34,127.68 405.83,128.65 406.33,129.62 406.83,130.60 407.33,131.57 407.83,132.55 408.33,133.53 408.83,134.51 409.33,135.50 409.82,136.48 410.32,137.47 410.82,138.45 411.32,139.44 411.82,140.43 412.32,141.41 412.82,142.40 413.32,143.39 413.82,144.38 414.31,145.37 414.81,146.35 415.31,147.34 415.81,148.33 416.31,149.31 416.81,150.30 417.31,151.28 417.81,152.26 418.31,153.24 418.80,154.22 419.30,155.19 419.80,156.16 420.30,157.12 420.80,158.09 421.30,159.04 421.80,159.99 422.30,160.94 422.80,161.88 423.29,162.81 423.79,163.73 424.29,164.64 424.79,165.54 425.29,166.43 425.79,167.31 426.29,168.17 426.79,169.02 427.28,169.85 427.78,170.66 428.28,171.45 428.78,172.22 429.28,172.96 429.78,173.67 430.28,174.35 430.78,174.99 431.28,175.60 431.77,176.17 432.27,176.70 432.77,177.18 433.27,177.61 433.77,177.98 434.27,178.30 434.77,178.56 435.27,178.76 435.77,178.89 436.26,178.95 436.76,178.95 437.26,178.87 437.76,178.73 438.26,178.52 438.76,178.24 439.26,177.89 439.76,177.49 440.26,177.02 440.75,176.49 441.25,175.91 441.75,175.27 442.25,174.58 442.75,173.85 443.25,173.07 443.75,172.25 444.25,171.40 444.74,170.50 445.24,169.58 445.74,168.62 446.24,167.63 446.74,166.61 447.24,165.57 447.74,164.50 448.24,163.41 448.74,162.30 449.23,161.16 449.73,160.01 450.23,158.83 450.73,157.64 451.23,156.43 451.73,155.20 452.23,153.96 452.73,152.69 453.23,151.42 453.72,150.13 454.22,148.82 454.72,147.50 455.22,146.16 455.72,144.81 456.22,143.45 456.72,142.07 457.22,140.68 457.72,139.28 458.21,137.86 458.71,136.43 459.21,134.99 459.71,133.53 460.21,132.06 460.71,130.57 461.21,129.08 461.71,127.57 462.21,126.04 462.70,124.50 463.20,122.95 463.70,121.39 464.20,119.81 464.70,118.21 465.20,116.61 465.70,114.98 466.20,113.35 466.69,111.70 467.19,110.03 467.69,108.35" fill="none" stroke="#de35a0" stroke-width="1.5" stroke-linejoin="round"/>
<polyline points="313.55,17.91 314.04,17.99 314.54,18.08 315.04,18.17 315.54,18.27 316.04,18.37 316.54,18.48 317.04,18.60 317.54,18.72 318.03,18.85 318.53,18.99 319.03,19.13 319.53,19.28 320.03,19.43 320.53,19.59 321.03,19.76 321.53,19.93 322.03,20.11 322.52,20.30 323.02,20.49 323.52,20.69 324.02,20.89 324.52,21.10 325.02,21.32 325.52,21.54 326.02,21.77 326.52,22.00 327.01,22.24 327.51,22.49 328.01,22.74 328.51,23.00 329.01,23.26 329.51,23.54 330.01,23.81 330.51,24.09 331.01,24.38 331.50,24.68 332.00,24.98 332.50,25.29 333.00,25.60 333.50,25.92 334.00,26.24 334.50,26.57 335.00,26.91 335.49,27.25 335.99,27.60 336.49,27.95 336.99,28.31 337.49,28.67 337.99,29.05 338.49,29.42 338.99,29.80 339.49,30.19 339.98,30.59 340.48,30.99 340.98,31.39 341.48,31.80 341.98,32.22 342.48,32.64 342.98,33.07 343.48,33.50 343.98,33.94 344.47,34.38 344.97,34.83 345.47,35.29 345.97,35.75 346.47,36.22 346.97,36.69 347.47,37.17 347.97,37.65 348.47,38.14 348.96,38.63 349.46,39.13 349.96,39.63 350.46,40.14 350.96,40.65 351.46,41.17 351.96,41.70 352.46,42.23 352.95,42.76 353.45,43.30 353.95,43.85 354.45,44.40 354.95,44.96 355.45,45.52 355.95,46.08 356.45,46.65 356.95,47.23 357.44,47.81 357.94,48.39 358.44,48.98 358.94,49.58 359.44,50.18 359.94,50.78 360.44,51.39 360.94,52.01 361.44,52.63 361.93,53.25 362.43,53.88 362.93,54.51 363.43,55.15 363.93,55.79 364.43,56.44 364.93,57.09 365.43,57.74 365.93,58.40 366.42,59.07 366.92,59.74 367.42,60.41 367.92,61.09 368.42,61.77 368.92,62.46 369.42,63.15 369.92,63.85 370.41,64.55 370.91,65.25 371.41,65.96 371.91,66.67 372.41,67.38 372.91,68.10 373.41,68.83 373.91,69.56 374.41,70.29 374.90,71.03 375.40,71.77 375.90,72.51 376.40,73.26 376.90,74.01 377.40,74.76 377.90,75.52 378.40,76.29 378.90,77.05 379.39,77.82 379.89,78.60 380.39,79.38 380.89,80.16 381.39,80.94 381.89,81.73 382.39,82.52 382.89,83.32 383.39,84.12 383.88,84.92 384.38,85.72 384.88,86.53 385.38,87.34 385.88,88.16 386.38,88.98 386.88,89.80 387.38,90.62 387.88,91.45 388.37,92.28 388.87,93.12 389.37,93.95 389.87,94.79 390.37,95.64 390.87,96.48 391.37,97.33 391.87,98.18 392.36,99.03 392.86,99.89 393.36,100.75 393.86,101.61 394.36,102.47 394.86,103.34 395.36,104.21 395.86,105.08 396.36,105.96 396.85,106.83 397.35,107.71 397.85,108.59 398.35,109.47 398.85,110.36 399.35,111.24 399.85,112.13 400.35,113.02 400.85,113.91 401.34,114.81 401.84,115.70 402.34,116.60 402.84,117.50 403.34,118.40 403.84,119.30 404.34,120.20 404.84,121.11 405.34,122.01 405.83,122.92 406.33,123.83 406.83,124.73 407.33,125.64 407.83,126.55 408.33,127.46 408.83,128.37 409.33,129.28 409.82,130.19 410.32,131.10 410.82,132.01 411.32,132.92 411.82,133.83 412.32,134.74 412.82,135.64 413.32,136.55 413.82,137.45 414.31,138.35 414.81,139.26 415.31,140.15 415.81,141.05 416.31,141.95 416.81,142.84 417.31,143.72 417.81,144.61 418.31,145.49 418.80,146.36 419.30,147.23 419.80,148.10 420.30,148.96 420.80,149.82 421.30,150.66 421.80,151.50 422.30,152.34 422.80,153.16 423.29,153.97 423.79,154.78 424.29,155.57 424.79,156.35 425.29,157.12 425.79,157.88 426.29,158.62 426.79,159.35 427.28,160.06 427.78,160.75 428.28,161.43 428.78,162.08 429.28,162.71 429.78,163.32 430.28,163.91 430.78,164.47 431.28,165.00 431.77,165.50 432.27,165.97 432.77,166.41 433.27,166.81 433.77,167.18 434.27,167.51 434.77,167.80 435.27,168.05 435.77,168.26 436.26,168.43 436.76,168.55 437.26,168.62 437.76,168.65 438.26,168.63 438.76,168.57 439.26,168.45 439.76,168.29 440.26,168.08 440.75,167.82 441.25,167.52 441.75,167.16 442.25,166.77 442.75,166.32 443.25,165.84 443.75,165.31 444.25,164.74 444.74,164.13 445.24,163.48 445.74,162.79 446.24,162.07 446.74,161.31 447.24,160.52 447.74,159.69 448.24,158.83 448.74,157.95 449.23,157.03 449.73,156.08 450.23,155.11 450.73,154.11 451.23,153.09 451.73,152.04 452.23,150.97 452.73,149.87 453.23,148.76 453.72,147.62 454.22,146.46 454.72,145.28 455.22,144.08 455.72,142.86 456.22,141.62 456.72,140.36 457.22,139.08 457.72,137.79 458.21,136.47 458.71,135.14 459.21,133.79 459.71,132.43 460.21,131.04 460.71,129.64 461.21,128.22 461.71,126.79 462.21,125.34 462.70,123.87 463.20,122.38 463.70,120.88 464.20,119.36 464.70,117.82 465.20,116.27 465.70,114.70 466.20,113.11 466.69,111.50 467.19,109.88 467.69,108.24" fill="none" stroke="#e84a62" stroke-width="1.5" stroke-linejoin="round"/>
<polyline points="313.55,17.88 314.04,17.96 314.54,18.04 315.04,18.13 315.54,18.22 316.04,18.32 316.54,18.42 317.04,18.53 317.54,18.65 318.03,18.77 318.53,18.90 319.03,19.03 319.53,19.17 320.03,19.31 320.53,19.46 321.03,19.62 321.53,19.78 322.03,19.95 322.52,20.13 323.02,20.31 323.52,20.49 324.02,20.68 324.52,20.88 325.02,21.08 325.52,21.29 326.02,21.51 326.52,21.73 327.01,21.95 327.51,22.18 328.01,22.42 328.51,22.66 329.01,22.91 329.51,23.17 330.01,23.43 330.51,23.69 331.01,23.96 331.50,24.24 332.00,24.52 332.50,24.81 333.00,25.11 333.50,25.40 334.00,25.71 334.50,26.02 335.00,26.34 335.49,26.66 335.99,26.98 336.49,27.32 336.99,27.65 337.49,28.00 337.99,28.35 338.49,28.70 338.99,29.06 339.49,29.42 339.98,29.79 340.48,30.17 340.98,30.55 341.48,30.94 341.98,31.33 342.48,31.72 342.98,32.12 343.48,32.53 343.98,32.94 344.47,33.36 344.97,33.78 345.47,34.21 345.97,34.64 346.47,35.08 346.97,35.53 347.47,35.97 347.97,36.43 348.47,36.89 348.96,37.35 349.46,37.82 349.96,38.29 350.46,38.77 350.96,39.25 351.46,39.74 351.96,40.23 352.46,40.73 352.95,41.23 353.45,41.74 353.95,42.25 354.45,42.77 354.95,43.29 355.45,43.82 355.95,44.35 356.45,44.88 356.95,45.42 357.44,45.97 357.94,46.52 358.44,47.07 358.94,47.63 359.44,48.20 359.94,48.76 360.44,49.34 360.94,49.91 361.44,50.49 361.93,51.08 362.43,51.67 362.93,52.26 363.43,52.86 363.93,53.47 364.43,54.07 364.93,54.68 365.43,55.30 365.93,55.92 366.42,56.54 366.92,57.17 367.42,57.80 367.92,58.44 368.42,59.08 368.92,59.73 369.42,60.37 369.92,61.03 370.41,61.68 370.91,62.34 371.41,63.01 371.91,63.68 372.41,64.35 372.91,65.02 373.41,65.70 373.91,66.39 374.41,67.07 374.90,67.76 375.40,68.46 375.90,69.15 376.40,69.86 376.90,70.56 377.40,71.27 377.90,71.98 378.40,72.70 378.90,73.42 379.39,74.14 379.89,74.86 380.39,75.59 380.89,76.32 381.39,77.06 381.89,77.80 382.39,78.54 382.89,79.29 383.39,80.03 383.88,80.79 384.38,81.54 384.88,82.30 385.38,83.06 385.88,83.82 386.38,84.59 386.88,85.35 387.38,86.13 387.88,86.90 388.37,87.68 388.87,88.46 389.37,89.24 389.87,90.03 390.37,90.81 390.87,91.60 391.37,92.40 391.87,93.19 392.36,93.99 392.86,94.79 393.36,95.59 393.86,96.40 394.36,97.20 394.86,98.01 395.36,98.82 395.86,99.63 396.36,100.45 396.85,101.27 397.35,102.08 397.85,102.90 398.35,103.73 398.85,104.55 399.35,105.38 399.85,106.20 400.35,107.03 400.85,107.86 401.34,108.69 401.84,109.52 402.34,110.36 402.84,111.19 403.34,112.03 403.84,112.86 404.34,113.70 404.84,114.54 405.34,115.38 405.83,116.21 406.33,117.05 406.83,117.89 407.33,118.73 407.83,119.57 408.33,120.41 408.83,121.25 409.33,122.09 409.82,122.93 410.32,123.77 410.82,124.61 411.32,125.44 411.82,126.28 412.32,127.11 412.82,127.95 413.32,128.78 413.82,129.61 414.31,130.43 414.81,131.26 415.31,132.08 415.81,132.90 416.31,133.72 416.81,134.53 417.31,135.34 417.81,136.14 418.31,136.95 418.80,137.74 419.30,138.53 419.80,139.32 420.30,140.10 420.80,140.88 421.30,141.65 421.80,142.41 422.30,143.16 422.80,143.91 423.29,144.65 423.79,145.37 424.29,146.09 424.79,146.80 425.29,147.50 425.79,148.19 426.29,148.86 426.79,149.52 427.28,150.17 427.78,150.80 428.28,151.42 428.78,152.02 429.28,152.61 429.78,153.18 430.28,153.73 430.78,154.25 431.28,154.76 431.77,155.25 432.27,155.71 432.77,156.15 433.27,156.56 433.77,156.95 434.27,157.31 434.77,157.65 435.27,157.95 435.77,158.22 436.26,158.47 436.76,158.68 437.26,158.85 437.76,158.99 438.26,159.10 438.76,159.18 439.26,159.21 439.76,159.21 440.26,159.17 440.75,159.10 441.25,158.98 441.75,158.83 442.25,158.64 442.75,158.41 443.25,158.15 443.75,157.84 444.25,157.50 444.74,157.12 445.24,156.70 445.74,156.24 446.24,155.75 446.74,155.22 447.24,154.66 447.74,154.06 448.24,153.43 448.74,152.76 449.23,152.06 449.73,151.33 450.23,150.56 450.73,149.77 451.23,148.95 451.73,148.09 452.23,147.21 452.73,146.30 453.23,145.36 453.72,144.40 454.22,143.40 454.72,142.39 455.22,141.34 455.72,140.28 456.22,139.18 456.72,138.07 457.22,136.93 457.72,135.76 458.21,134.58 458.71,133.37 459.21,132.14 459.71,130.89 460.21,129.61 460.71,128.32 461.21,127.00 461.71,125.66 462.21,124.31 462.70,122.93 463.20,121.53 463.70,120.11 464.20,118.66 464.70,117.20 465.20,115.72 465.70,114.22 466.20,112.69 466.69,111.15 467.19,109.58 467.69,108.00" fill="none" stroke="#ef9a3e" stroke-width="1.5" stroke-linejoin="round"/>
<polyline points="307.50,17.45 307.90,17.45 308.31,17.46 308.71,17.47 309.11,17.48 309.51,17.49 309.92,17.51 310.32,17.54 310.72,17.56 311.13,17.60 311.53,17.63 311.93,17.67 312.34,17.71 312.74,17.75 313.14,17.80 313.55,17.85 313.95,17.91 314.35,17.97 314.75,18.03 315.16,18.10 315.56,18.17 315.96,18.24 316.37,18.32 316.77,18.40 317.17,18.48 317.57,18.57 317.98,18.66 318.38,18.75 318.78,18.85 319.19,18.95 319.59,19.06 319.99,19.17 320.40,19.28 320.80,19.40 321.20,19.52 321.61,19.64 322.01,19.77 322.41,19.90 322.81,20.03 323.22,20.17 323.62,20.31 324.02,20.45 324.43,20.60 324.83,20.75 325.23,20.90 325.63,21.06 326.04,21.22 326.44,21.39 326.84,21.56 327.25,21.73 327.65,21.90 328.05,22.08 328.46,22.26 328.86,22.45 329.26,22.64 329.67,22.83 330.07,23.03 330.47,23.23 330.87,23.43 331.28,23.64 331.68,23.85 332.08,24.06 332.49,24.27 332.89,24.49 333.29,24.72 333.69,24.94 334.10,25.17 334.50,25.41 334.90,25.64 335.31,25.88 335.71,26.13 336.11,26.37 336.52,26.62 336.92,26.87 337.32,27.13 337.73,27.39 338.13,27.65 338.53,27.92 338.93,28.19 339.34,28.46 339.74,28.74 340.14,29.02 340.55,29.30 340.95,29.59 341.35,29.87 341.75,30.17 342.16,30.46 342.56,30.76 342.96,31.06 343.37,31.37 343.77,31.67 344.17,31.99 344.58,32.30 344.98,32.62 345.38,32.94 345.79,33.26 346.19,33.59 346.59,33.92 346.99,34.25 347.40,34.59 347.80,34.93 348.20,35.27 348.61,35.61 349.01,35.96 349.41,36.31 349.81,36.67 350.22,37.02 350.62,37.38 351.02,37.75 351.43,38.11 351.83,38.48 352.23,38.86 352.64,39.23 353.04,39.61 353.44,39.99 353.85,40.37 354.25,40.76 354.65,41.15 355.05,41.54 355.46,41.94 355.86,42.34 356.26,42.74 356.67,43.14 357.07,43.55 357.47,43.96 357.88,44.37 358.28,44.78 358.68,45.20 359.08,45.62 359.49,46.05 359.89,46.47 360.29,46.90 360.70,47.33 361.10,47.77 361.50,48.20 361.90,48.64 362.31,49.09 362.71,49.53 363.11,49.98 363.52,50.43 363.92,50.88 364.32,51.34 364.73,51.79 365.13,52.26 365.53,52.72 365.94,53.18 366.34,53.65 366.74,54.12 367.14,54.60 367.55,55.07 367.95,55.55 368.35,56.03 368.76,56.51 369.16,57.00 369.56,57.49 369.96,57.98 370.37,58.47 370.77,58.97 371.17,59.46 371.58,59.96 371.98,60.46 372.38,60.97 372.79,61.48 373.19,61.99 373.59,62.50 374.00,63.01 374.40,63.53 374.80,64.04 375.20,64.56 375.61,65.09 376.01,65.61 376.41,66.14 376.82,66.67 377.22,67.20 377.62,67.73 378.02,68.27 378.43,68.80 378.83,69.34 379.23,69.89 379.64,70.43 380.04,70.98 380.44,71.52 380.85,72.07 381.25,72.62 381.65,73.18 382.06,73.73 382.46,74.29 382.86,74.85 383.26,75.41 383.67,75.97 384.07,76.54 384.47,77.11 384.88,77.67 385.28,78.24 385.68,78.82 386.09,79.39 386.49,79.97 386.89,80.54 387.29,81.12 387.70,81.70 388.10,82.29 388.50,82.87 388.91,83.46 389.31,84.04 389.71,84.63 390.12,85.22 390.52,85.81 390.92,86.41 391.32,87.00 391.73,87.60 392.13,88.19 392.53,88.79 392.94,89.39 393.34,90.00 393.74,90.60 394.14,91.20 394.55,91.81 394.95,92.42 395.35,93.02 395.76,93.63 396.16,94.24 396.56,94.86 396.97,95.47 397.37,96.08 397.77,96.70 398.18,97.31 398.58,97.93 398.98,98.55 399.38,99.17 399.79,99.79 400.19,100.41 400.59,101.03 401.00,101.65 401.40,102.27 401.80,102.89 402.20,103.52 402.61,104.14 403.01,104.77 403.41,105.39 403.82,106.02 404.22,106.65 404.62,107.27 405.03,107.90 405.43,108.53 405.83,109.16 406.24,109.78 406.64,110.41 407.04,111.04 407.44,111.67 407.85,112.30 408.25,112.92 408.65,113.55 409.06,114.18 409.46,114.81 409.86,115.43 410.26,116.06 410.67,116.69 411.07,117.31 411.47,117.94 411.88,118.56 412.28,119.18 412.68,119.81 413.09,120.43 413.49,121.05 413.89,121.67 414.30,122.29 414.70,122.90 415.10,123.52 415.50,124.13 415.91,124.74 416.31,125.35 416.71,125.96 417.12,126.56 417.52,127.17 417.92,127.77 418.32,128.37 418.73,128.96 419.13,129.56 419.53,130.15 419.94,130.73 420.34,131.32 420.74,131.90 421.15,132.47 421.55,133.05 421.95,133.62 422.36,134.18 422.76,134.74 423.16,135.30 423.56,135.85 423.97,136.40 424.37,136.94 424.77,137.47 425.18,138.00 425.58,138.53 425.98,139.04 426.38,139.55 426.79,140.06 427.19,140.55 427.59,141.04 428.00,141.53 428.40,142.00 428.80,142.46 429.21,142.92 429.61,143.37 430.01,143.81 430.41,144.24 430.82,144.65 431.22,145.06 431.62,145.46 432.03,145.85 432.43,146.22 432.83,146.58 433.24,146.93 433.64,147.27 434.04,147.59 434.44,147.90 434.85,148.20 435.25,148.48 435.65,148.75 436.06,149.00 436.46,149.23 436.86,149.45 437.27,149.66 437.67,149.84 438.07,150.01 438.48,150.16 438.88,150.29 439.28,150.41 439.68,150.50 440.09,150.58 440.49,150.63 440.89,150.67 441.30,150.69 441.70,150.68 442.10,150.66 442.50,150.61 442.91,150.54 443.31,150.45 443.71,150.34 444.12,150.21 444.52,150.06 444.92,149.88 445.33,149.69 445.73,149.47 446.13,149.23 446.53,148.96 446.94,148.68 447.34,148.37 447.74,148.04 448.15,147.69 448.55,147.32 448.95,146.92 449.36,146.50 449.76,146.07 450.16,145.61 450.56,145.13 450.97,144.63 451.37,144.10 451.77,143.56 452.18,143.00 452.58,142.41 452.98,141.81 453.39,141.19 453.79,140.54 454.19,139.88 454.60,139.20 455.00,138.50 455.40,137.78 455.80,137.04 456.21,136.28 456.61,135.51 457.01,134.71 457.42,133.90 457.82,133.07 458.22,132.23 458.62,131.36 459.03,130.48 459.43,129.58 459.83,128.67 460.24,127.74 460.64,126.79 461.04,125.82 461.45,124.84 461.85,123.84 462.25,122.83 462.65,121.80 463.06,120.75 463.46,119.69 463.86,118.61 464.27,117.52 464.67,116.41 465.07,115.28 465.48,114.14 465.88,112.98 466.28,111.81 466.69,110.62 467.09,109.41 467.49,108.19 467.89,106.95 468.30,105.70 468.70,104.43 469.10,103.15 469.51,101.85 469.91,100.53 470.31,99.20 470.72,97.85 471.12,96.48 471.52,95.10 471.92,93.70 472.33,92.29 472.73,90.86 473.13,89.41 473.54,87.94 473.94,86.46 474.34,84.96 474.75,83.44 475.15,81.90 475.55,80.35 475.95,78.78 476.36,77.19 476.76,75.58 477.16,73.96 477.57,72.31 477.97,70.65 478.37,68.96 478.77,67.26 479.18,65.54 479.58,63.79 479.98,62.03 480.39,60.25 480.79,58.44 481.19,56.62 481.60,54.77 482.00,52.90 482.40,51.01 482.81,49.10 483.21,47.16 483.61,45.20 484.01,43.22 484.42,41.21 484.82,39.18 485.22,37.12 485.63,35.04 486.03,32.94 486.43,30.81 486.84,28.65 487.24,26.46 487.64,24.25 488.04,22.01 488.45,19.75 488.85,17.45" fill="none" stroke="#ecdc3a" stroke-width="1.5" stroke-linejoin="round"/>
<text x="307.5" y="220.3" text-anchor="middle" class="tk">0</text>
<text x="408.25" y="220.3" text-anchor="middle" class="tk">50</text>
<text x="509.0" y="220.3" text-anchor="middle" class="tk"><tspan class="o">1</tspan>00</text>
<text x="303.3" y="207.4" text-anchor="end" class="tk">0</text>
<text x="303.3" y="170.61" text-anchor="end" class="tk">0.2</text>
<text x="303.3" y="133.82" text-anchor="end" class="tk">0.4</text>
<text x="303.3" y="97.03" text-anchor="end" class="tk">0.6</text>
<text x="303.3" y="60.23999999999998" text-anchor="end" class="tk">0.8</text>
<text x="303.3" y="23.44999999999999" text-anchor="end" class="tk"><tspan class="o">1</tspan></text>
<rect x="46.5" y="95.0" width="59.0" height="100.5" fill="#fff" stroke="#c0c0c0" stroke-width="1"/>
<line x1="48.5" y1="104.2" x2="69.8" y2="104.2" stroke="#4030b0" stroke-width="1.5"/>
<text x="71.6" y="109.3" class="lg">n=<tspan class="o">1</tspan>.5</text>
<line x1="48.5" y1="120.65" x2="69.8" y2="120.65" stroke="#b636e0" stroke-width="1.5"/>
<text x="71.6" y="125.75" class="lg">n=<tspan class="o">1</tspan>.8</text>
<line x1="48.5" y1="137.1" x2="69.8" y2="137.1" stroke="#de35a0" stroke-width="1.5"/>
<text x="71.6" y="142.2" class="lg">n=2.<tspan class="o">1</tspan></text>
<line x1="48.5" y1="153.55" x2="69.8" y2="153.55" stroke="#e84a62" stroke-width="1.5"/>
<text x="71.6" y="158.65" class="lg">n=2.4</text>
<line x1="48.5" y1="170.0" x2="69.8" y2="170.0" stroke="#ef9a3e" stroke-width="1.5"/>
<text x="71.6" y="175.1" class="lg">n=2.7</text>
<line x1="48.5" y1="186.45" x2="69.8" y2="186.45" stroke="#ecdc3a" stroke-width="1.5"/>
<text x="71.6" y="191.54999999999998" class="lg">n=3</text>
<rect x="313.0" y="95.0" width="59.5" height="100.5" fill="#fff" stroke="#c0c0c0" stroke-width="1"/>
<line x1="315.0" y1="104.2" x2="336.3" y2="104.2" stroke="#4030b0" stroke-width="1.5"/>
<text x="338.1" y="109.3" class="lg"><tspan class="k">κ</tspan>=0</text>
<line x1="315.0" y1="120.65" x2="336.3" y2="120.65" stroke="#b636e0" stroke-width="1.5"/>
<text x="338.1" y="125.75" class="lg"><tspan class="k">κ</tspan>=0.2</text>
<line x1="315.0" y1="137.1" x2="336.3" y2="137.1" stroke="#de35a0" stroke-width="1.5"/>
<text x="338.1" y="142.2" class="lg"><tspan class="k">κ</tspan>=0.4</text>
<line x1="315.0" y1="153.55" x2="336.3" y2="153.55" stroke="#e84a62" stroke-width="1.5"/>
<text x="338.1" y="158.65" class="lg"><tspan class="k">κ</tspan>=0.6</text>
<line x1="315.0" y1="170.0" x2="336.3" y2="170.0" stroke="#ef9a3e" stroke-width="1.5"/>
<text x="338.1" y="175.1" class="lg"><tspan class="k">κ</tspan>=0.8</text>
<line x1="315.0" y1="186.45" x2="336.3" y2="186.45" stroke="#ecdc3a" stroke-width="1.5"/>
<text x="338.1" y="191.54999999999998" class="lg"><tspan class="k">κ</tspan>=<tspan class="o">1</tspan></text>
<text x="142.25" y="11.3" text-anchor="middle" class="ti"><tspan class="k">κ</tspan>=0</text>
<text x="408.25" y="11.3" text-anchor="middle" class="ti">n=2</text>
<text x="0.2" y="14.0" class="pl"><tspan class="pp">(</tspan>a<tspan class="pp">)</tspan></text>
<text x="266.7" y="14.0" class="pl"><tspan class="pp">(</tspan>b<tspan class="pp">)</tspan></text>
<text transform="translate(10.9,124.9) rotate(-90)" class="yl">tan</text>
<text transform="translate(10.9,102.4) rotate(-90) scale(0.66,1)" class="psi">Ψ</text>
<text transform="translate(277.9,124.9) rotate(-90)" class="yl">tan</text>
<text transform="translate(277.9,102.4) rotate(-90) scale(0.66,1)" class="psi">Ψ</text>
<text x="141.25" y="239.5" text-anchor="middle" class="xl"><tspan class="th">θ</tspan><tspan class="sub" dy="8.2">i</tspan><tspan dy="-8.2"> (°)</tspan></text>
<text x="408.25" y="239.5" text-anchor="middle" class="xl"><tspan class="th">θ</tspan><tspan class="sub" dy="8.2">i</tspan><tspan dy="-8.2"> (°)</tspan></text>
</svg>
</body></html>
